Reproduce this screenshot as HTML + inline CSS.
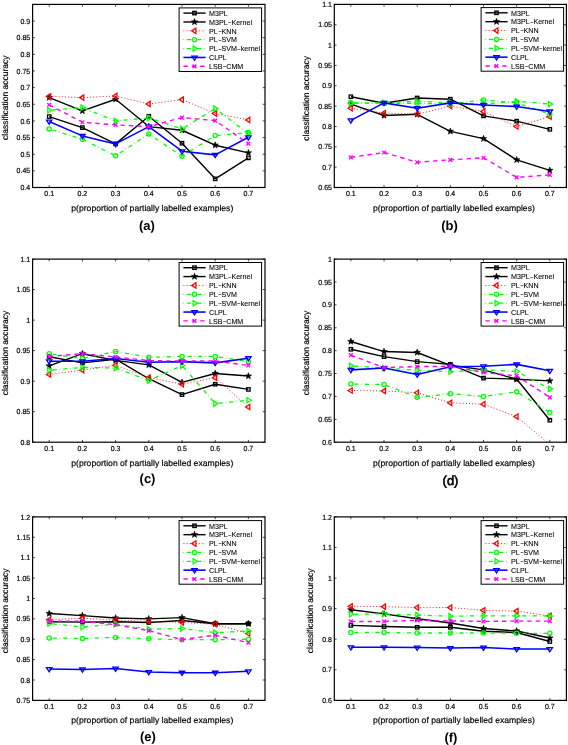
<!DOCTYPE html><html><head><meta charset="utf-8"><style>html,body{margin:0;padding:0;background:#fff;}body{position:relative;width:568px;height:745px;overflow:hidden;}svg{display:block;}.lg{position:absolute;font-family:"Liberation Sans",Arial,sans-serif;font-size:8px;line-height:8px;white-space:nowrap;color:#000;-webkit-text-stroke:0.1px #000;transform:scaleX(0.89);transform-origin:0 0;}.h{display:inline-block;transform:scaleX(1.5);margin:0 0.8px;position:relative;top:-0.8px;}text{font-family:"Liberation Sans",Arial,Helvetica,sans-serif;fill:#000;text-rendering:geometricPrecision;}text.r{stroke:#000;stroke-width:0.18px;}</style></head><body>
<svg width="568" height="745" viewBox="0 0 568 745">
<rect width="568" height="745" fill="#fff"/>
<clipPath id="c0"><rect x="32.60" y="4.40" width="232.40" height="183.10"/></clipPath>
<path d="M49.20 187.50v-2.3M49.20 4.40v2.3M82.40 187.50v-2.3M82.40 4.40v2.3M115.60 187.50v-2.3M115.60 4.40v2.3M148.80 187.50v-2.3M148.80 4.40v2.3M182.00 187.50v-2.3M182.00 4.40v2.3M215.20 187.50v-2.3M215.20 4.40v2.3M248.40 187.50v-2.3M248.40 4.40v2.3M32.60 187.50h2.3M265.00 187.50h-2.3M32.60 170.85h2.3M265.00 170.85h-2.3M32.60 154.21h2.3M265.00 154.21h-2.3M32.60 137.56h2.3M265.00 137.56h-2.3M32.60 120.92h2.3M265.00 120.92h-2.3M32.60 104.27h2.3M265.00 104.27h-2.3M32.60 87.63h2.3M265.00 87.63h-2.3M32.60 70.98h2.3M265.00 70.98h-2.3M32.60 54.34h2.3M265.00 54.34h-2.3M32.60 37.69h2.3M265.00 37.69h-2.3M32.60 21.05h2.3M265.00 21.05h-2.3" stroke="#333" stroke-width="0.9" fill="none"/>
<text transform="translate(49.20 196.30) scale(0.95 1)" class="r" font-size="7.35" text-anchor="middle">0.1</text>
<text transform="translate(82.40 196.30) scale(0.95 1)" class="r" font-size="7.35" text-anchor="middle">0.2</text>
<text transform="translate(115.60 196.30) scale(0.95 1)" class="r" font-size="7.35" text-anchor="middle">0.3</text>
<text transform="translate(148.80 196.30) scale(0.95 1)" class="r" font-size="7.35" text-anchor="middle">0.4</text>
<text transform="translate(182.00 196.30) scale(0.95 1)" class="r" font-size="7.35" text-anchor="middle">0.5</text>
<text transform="translate(215.20 196.30) scale(0.95 1)" class="r" font-size="7.35" text-anchor="middle">0.6</text>
<text transform="translate(248.40 196.30) scale(0.95 1)" class="r" font-size="7.35" text-anchor="middle">0.7</text>
<text transform="translate(30.20 190.10) scale(0.95 1)" class="r" font-size="7.35" text-anchor="end">0.4</text>
<text transform="translate(30.20 173.45) scale(0.95 1)" class="r" font-size="7.35" text-anchor="end">0.45</text>
<text transform="translate(30.20 156.81) scale(0.95 1)" class="r" font-size="7.35" text-anchor="end">0.5</text>
<text transform="translate(30.20 140.16) scale(0.95 1)" class="r" font-size="7.35" text-anchor="end">0.55</text>
<text transform="translate(30.20 123.52) scale(0.95 1)" class="r" font-size="7.35" text-anchor="end">0.6</text>
<text transform="translate(30.20 106.87) scale(0.95 1)" class="r" font-size="7.35" text-anchor="end">0.65</text>
<text transform="translate(30.20 90.23) scale(0.95 1)" class="r" font-size="7.35" text-anchor="end">0.7</text>
<text transform="translate(30.20 73.58) scale(0.95 1)" class="r" font-size="7.35" text-anchor="end">0.75</text>
<text transform="translate(30.20 56.94) scale(0.95 1)" class="r" font-size="7.35" text-anchor="end">0.8</text>
<text transform="translate(30.20 40.29) scale(0.95 1)" class="r" font-size="7.35" text-anchor="end">0.85</text>
<text transform="translate(30.20 23.65) scale(0.95 1)" class="r" font-size="7.35" text-anchor="end">0.9</text>
<g clip-path="url(#c0)">
<polyline points="49.20,116.59 82.40,127.58 115.60,143.89 148.80,116.26 182.00,143.22 215.20,178.84 248.40,157.87" fill="none" stroke="#000" stroke-width="1.4" stroke-linejoin="round"/>
<rect x="47.50" y="114.89" width="3.40" height="3.40" fill="none" stroke="#000" stroke-width="1.3"/>
<rect x="80.70" y="125.88" width="3.40" height="3.40" fill="none" stroke="#000" stroke-width="1.3"/>
<rect x="113.90" y="142.19" width="3.40" height="3.40" fill="none" stroke="#000" stroke-width="1.3"/>
<rect x="147.10" y="114.56" width="3.40" height="3.40" fill="none" stroke="#000" stroke-width="1.3"/>
<rect x="180.30" y="141.52" width="3.40" height="3.40" fill="none" stroke="#000" stroke-width="1.3"/>
<rect x="213.50" y="177.14" width="3.40" height="3.40" fill="none" stroke="#000" stroke-width="1.3"/>
<rect x="246.70" y="156.17" width="3.40" height="3.40" fill="none" stroke="#000" stroke-width="1.3"/>
<polyline points="49.20,97.61 82.40,110.93 115.60,99.28 148.80,126.58 182.00,130.24 215.20,145.22 248.40,152.88" fill="none" stroke="#000" stroke-width="1.4" stroke-linejoin="round"/>
<polygon points="49.20,94.21 50.02,96.48 52.43,96.56 50.53,98.05 51.20,100.37 49.20,99.01 47.20,100.37 47.87,98.05 45.97,96.56 48.38,96.48" fill="#000" stroke="#000" stroke-width="0.6"/>
<polygon points="82.40,107.53 83.22,109.80 85.63,109.88 83.73,111.36 84.40,113.68 82.40,112.33 80.40,113.68 81.07,111.36 79.17,109.88 81.58,109.80" fill="#000" stroke="#000" stroke-width="0.6"/>
<polygon points="115.60,95.88 116.42,98.15 118.83,98.23 116.93,99.71 117.60,102.03 115.60,100.68 113.60,102.03 114.27,99.71 112.37,98.23 114.78,98.15" fill="#000" stroke="#000" stroke-width="0.6"/>
<polygon points="148.80,123.18 149.62,125.45 152.03,125.53 150.13,127.01 150.80,129.33 148.80,127.98 146.80,129.33 147.47,127.01 145.57,125.53 147.98,125.45" fill="#000" stroke="#000" stroke-width="0.6"/>
<polygon points="182.00,126.84 182.82,129.11 185.23,129.19 183.33,130.67 184.00,132.99 182.00,131.64 180.00,132.99 180.67,130.67 178.77,129.19 181.18,129.11" fill="#000" stroke="#000" stroke-width="0.6"/>
<polygon points="215.20,141.82 216.02,144.09 218.43,144.17 216.53,145.65 217.20,147.97 215.20,146.62 213.20,147.97 213.87,145.65 211.97,144.17 214.38,144.09" fill="#000" stroke="#000" stroke-width="0.6"/>
<polygon points="248.40,149.48 249.22,151.74 251.63,151.83 249.73,153.31 250.40,155.63 248.40,154.28 246.40,155.63 247.07,153.31 245.17,151.83 247.58,151.74" fill="#000" stroke="#000" stroke-width="0.6"/>
<polyline points="49.20,96.28 82.40,97.61 115.60,95.95 148.80,103.94 182.00,99.61 215.20,113.59 248.40,119.92" fill="none" stroke="#f00" stroke-width="0.9" stroke-dasharray="1 2.15" stroke-dashoffset="0" stroke-linejoin="round"/>
<polygon points="46.40,96.28 50.60,93.58 50.60,98.98" fill="none" stroke="#f00" stroke-width="1.25" stroke-linejoin="miter"/>
<polygon points="79.60,97.61 83.80,94.91 83.80,100.31" fill="none" stroke="#f00" stroke-width="1.25" stroke-linejoin="miter"/>
<polygon points="112.80,95.95 117.00,93.25 117.00,98.65" fill="none" stroke="#f00" stroke-width="1.25" stroke-linejoin="miter"/>
<polygon points="146.00,103.94 150.20,101.24 150.20,106.64" fill="none" stroke="#f00" stroke-width="1.25" stroke-linejoin="miter"/>
<polygon points="179.20,99.61 183.40,96.91 183.40,102.31" fill="none" stroke="#f00" stroke-width="1.25" stroke-linejoin="miter"/>
<polygon points="212.40,113.59 216.60,110.89 216.60,116.29" fill="none" stroke="#f00" stroke-width="1.25" stroke-linejoin="miter"/>
<polygon points="245.60,119.92 249.80,117.22 249.80,122.62" fill="none" stroke="#f00" stroke-width="1.25" stroke-linejoin="miter"/>
<polyline points="49.20,128.91 82.40,139.23 115.60,155.87 148.80,133.90 182.00,156.21 215.20,135.57 248.40,132.57" fill="none" stroke="#0f0" stroke-width="1.3" stroke-dasharray="4.1 2.9 0.6 2.9" stroke-dashoffset="7.0" stroke-linejoin="round"/>
<circle cx="49.20" cy="128.91" r="2.1" fill="none" stroke="#0f0" stroke-width="1.3"/>
<circle cx="82.40" cy="139.23" r="2.1" fill="none" stroke="#0f0" stroke-width="1.3"/>
<circle cx="115.60" cy="155.87" r="2.1" fill="none" stroke="#0f0" stroke-width="1.3"/>
<circle cx="148.80" cy="133.90" r="2.1" fill="none" stroke="#0f0" stroke-width="1.3"/>
<circle cx="182.00" cy="156.21" r="2.1" fill="none" stroke="#0f0" stroke-width="1.3"/>
<circle cx="215.20" cy="135.57" r="2.1" fill="none" stroke="#0f0" stroke-width="1.3"/>
<circle cx="248.40" cy="132.57" r="2.1" fill="none" stroke="#0f0" stroke-width="1.3"/>
<polyline points="49.20,110.27 82.40,107.60 115.60,120.92 148.80,117.92 182.00,128.91 215.20,108.60 248.40,133.57" fill="none" stroke="#0f0" stroke-width="1.3" stroke-dasharray="4.1 2.9 0.6 2.9" stroke-dashoffset="7.0" stroke-linejoin="round"/>
<polygon points="52.00,110.27 47.80,107.57 47.80,112.97" fill="none" stroke="#0f0" stroke-width="1.25" stroke-linejoin="miter"/>
<polygon points="85.20,107.60 81.00,104.90 81.00,110.30" fill="none" stroke="#0f0" stroke-width="1.25" stroke-linejoin="miter"/>
<polygon points="118.40,120.92 114.20,118.22 114.20,123.62" fill="none" stroke="#0f0" stroke-width="1.25" stroke-linejoin="miter"/>
<polygon points="151.60,117.92 147.40,115.22 147.40,120.62" fill="none" stroke="#0f0" stroke-width="1.25" stroke-linejoin="miter"/>
<polygon points="184.80,128.91 180.60,126.21 180.60,131.61" fill="none" stroke="#0f0" stroke-width="1.25" stroke-linejoin="miter"/>
<polygon points="218.00,108.60 213.80,105.90 213.80,111.30" fill="none" stroke="#0f0" stroke-width="1.25" stroke-linejoin="miter"/>
<polygon points="251.20,133.57 247.00,130.87 247.00,136.27" fill="none" stroke="#0f0" stroke-width="1.25" stroke-linejoin="miter"/>
<polyline points="49.20,121.58 82.40,135.90 115.60,143.89 148.80,126.58 182.00,151.21 215.20,154.87 248.40,137.23" fill="none" stroke="#00f" stroke-width="1.55" stroke-linejoin="round"/>
<polygon points="49.20,124.38 46.50,120.18 51.90,120.18" fill="none" stroke="#00f" stroke-width="1.3" stroke-linejoin="miter"/>
<polygon points="82.40,138.70 79.70,134.50 85.10,134.50" fill="none" stroke="#00f" stroke-width="1.3" stroke-linejoin="miter"/>
<polygon points="115.60,146.69 112.90,142.49 118.30,142.49" fill="none" stroke="#00f" stroke-width="1.3" stroke-linejoin="miter"/>
<polygon points="148.80,129.38 146.10,125.18 151.50,125.18" fill="none" stroke="#00f" stroke-width="1.3" stroke-linejoin="miter"/>
<polygon points="182.00,154.01 179.30,149.81 184.70,149.81" fill="none" stroke="#00f" stroke-width="1.3" stroke-linejoin="miter"/>
<polygon points="215.20,157.67 212.50,153.47 217.90,153.47" fill="none" stroke="#00f" stroke-width="1.3" stroke-linejoin="miter"/>
<polygon points="248.40,140.03 245.70,135.83 251.10,135.83" fill="none" stroke="#00f" stroke-width="1.3" stroke-linejoin="miter"/>
<polyline points="49.20,104.94 82.40,122.25 115.60,124.91 148.80,126.58 182.00,117.59 215.20,120.59 248.40,143.56" fill="none" stroke="#f0f" stroke-width="1.4" stroke-dasharray="4.4 4" stroke-dashoffset="0" stroke-linejoin="round"/>
<path d="M47.30 103.04L51.10 106.84M47.30 106.84L51.10 103.04" stroke="#f0f" stroke-width="1.3" fill="none"/>
<path d="M80.50 120.35L84.30 124.15M80.50 124.15L84.30 120.35" stroke="#f0f" stroke-width="1.3" fill="none"/>
<path d="M113.70 123.01L117.50 126.81M113.70 126.81L117.50 123.01" stroke="#f0f" stroke-width="1.3" fill="none"/>
<path d="M146.90 124.68L150.70 128.48M146.90 128.48L150.70 124.68" stroke="#f0f" stroke-width="1.3" fill="none"/>
<path d="M180.10 115.69L183.90 119.49M180.10 119.49L183.90 115.69" stroke="#f0f" stroke-width="1.3" fill="none"/>
<path d="M213.30 118.69L217.10 122.49M213.30 122.49L217.10 118.69" stroke="#f0f" stroke-width="1.3" fill="none"/>
<path d="M246.50 141.66L250.30 145.46M246.50 145.46L250.30 141.66" stroke="#f0f" stroke-width="1.3" fill="none"/>
</g>
<rect x="32.60" y="4.40" width="232.40" height="183.10" fill="none" stroke="#000" stroke-width="1.2"/>
<rect x="179.10" y="7.90" width="82.5" height="63.6" fill="#fff" stroke="#000" stroke-width="1"/>
<line x1="183.40" y1="13.10" x2="205.60" y2="13.10" stroke="#000" stroke-width="1.4"/>
<rect x="192.80" y="11.40" width="3.40" height="3.40" fill="none" stroke="#000" stroke-width="1.3"/>
<line x1="183.40" y1="21.97" x2="205.60" y2="21.97" stroke="#000" stroke-width="1.4"/>
<polygon points="194.50,18.57 195.32,20.84 197.73,20.92 195.83,22.40 196.50,24.72 194.50,23.37 192.50,24.72 193.17,22.40 191.27,20.92 193.68,20.84" fill="#000" stroke="#000" stroke-width="0.6"/>
<line x1="183.40" y1="30.84" x2="205.60" y2="30.84" stroke="#f00" stroke-width="0.9" stroke-dasharray="1 2.15" stroke-dashoffset="0"/>
<polygon points="191.70,30.84 195.90,28.14 195.90,33.54" fill="none" stroke="#f00" stroke-width="1.25" stroke-linejoin="miter"/>
<line x1="183.40" y1="39.71" x2="205.60" y2="39.71" stroke="#0f0" stroke-width="1.3" stroke-dasharray="4.1 2.9 0.6 2.9" stroke-dashoffset="7.0"/>
<circle cx="194.50" cy="39.71" r="2.1" fill="none" stroke="#0f0" stroke-width="1.3"/>
<line x1="183.40" y1="48.58" x2="205.60" y2="48.58" stroke="#0f0" stroke-width="1.3" stroke-dasharray="4.1 2.9 0.6 2.9" stroke-dashoffset="7.0"/>
<polygon points="197.30,48.58 193.10,45.88 193.10,51.28" fill="none" stroke="#0f0" stroke-width="1.25" stroke-linejoin="miter"/>
<line x1="183.40" y1="57.45" x2="205.60" y2="57.45" stroke="#00f" stroke-width="1.55"/>
<polygon points="194.50,60.25 191.80,56.05 197.20,56.05" fill="none" stroke="#00f" stroke-width="1.3" stroke-linejoin="miter"/>
<line x1="183.40" y1="66.32" x2="205.60" y2="66.32" stroke="#f0f" stroke-width="1.4" stroke-dasharray="4.4 4" stroke-dashoffset="0"/>
<path d="M192.60 64.42L196.40 68.22M192.60 68.22L196.40 64.42" stroke="#f0f" stroke-width="1.3" fill="none"/>
<text transform="translate(7.70 97.70) rotate(-90)" class="r" font-size="8.5" text-anchor="middle">classification accuracy</text>
<text x="152.30" y="210.60" class="r" font-size="8.6" text-anchor="middle">p(proportion of partially labelled examples)</text>
<text x="146.90" y="229.60" font-size="13" font-weight="bold" text-anchor="middle">(a)</text>
<clipPath id="c1"><rect x="334.30" y="4.40" width="232.10" height="183.10"/></clipPath>
<path d="M350.88 187.50v-2.3M350.88 4.40v2.3M384.04 187.50v-2.3M384.04 4.40v2.3M417.19 187.50v-2.3M417.19 4.40v2.3M450.35 187.50v-2.3M450.35 4.40v2.3M483.51 187.50v-2.3M483.51 4.40v2.3M516.66 187.50v-2.3M516.66 4.40v2.3M549.82 187.50v-2.3M549.82 4.40v2.3M334.30 187.50h2.3M566.40 187.50h-2.3M334.30 167.16h2.3M566.40 167.16h-2.3M334.30 146.81h2.3M566.40 146.81h-2.3M334.30 126.47h2.3M566.40 126.47h-2.3M334.30 106.12h2.3M566.40 106.12h-2.3M334.30 85.78h2.3M566.40 85.78h-2.3M334.30 65.43h2.3M566.40 65.43h-2.3M334.30 45.09h2.3M566.40 45.09h-2.3M334.30 24.74h2.3M566.40 24.74h-2.3M334.30 4.40h2.3M566.40 4.40h-2.3" stroke="#333" stroke-width="0.9" fill="none"/>
<text transform="translate(350.88 196.30) scale(0.95 1)" class="r" font-size="7.35" text-anchor="middle">0.1</text>
<text transform="translate(384.04 196.30) scale(0.95 1)" class="r" font-size="7.35" text-anchor="middle">0.2</text>
<text transform="translate(417.19 196.30) scale(0.95 1)" class="r" font-size="7.35" text-anchor="middle">0.3</text>
<text transform="translate(450.35 196.30) scale(0.95 1)" class="r" font-size="7.35" text-anchor="middle">0.4</text>
<text transform="translate(483.51 196.30) scale(0.95 1)" class="r" font-size="7.35" text-anchor="middle">0.5</text>
<text transform="translate(516.66 196.30) scale(0.95 1)" class="r" font-size="7.35" text-anchor="middle">0.6</text>
<text transform="translate(549.82 196.30) scale(0.95 1)" class="r" font-size="7.35" text-anchor="middle">0.7</text>
<text transform="translate(331.90 190.10) scale(0.95 1)" class="r" font-size="7.35" text-anchor="end">0.65</text>
<text transform="translate(331.90 169.76) scale(0.95 1)" class="r" font-size="7.35" text-anchor="end">0.7</text>
<text transform="translate(331.90 149.41) scale(0.95 1)" class="r" font-size="7.35" text-anchor="end">0.75</text>
<text transform="translate(331.90 129.07) scale(0.95 1)" class="r" font-size="7.35" text-anchor="end">0.8</text>
<text transform="translate(331.90 108.72) scale(0.95 1)" class="r" font-size="7.35" text-anchor="end">0.85</text>
<text transform="translate(331.90 88.38) scale(0.95 1)" class="r" font-size="7.35" text-anchor="end">0.9</text>
<text transform="translate(331.90 68.03) scale(0.95 1)" class="r" font-size="7.35" text-anchor="end">0.95</text>
<text transform="translate(331.90 47.69) scale(0.95 1)" class="r" font-size="7.35" text-anchor="end">1</text>
<text transform="translate(331.90 27.34) scale(0.95 1)" class="r" font-size="7.35" text-anchor="end">1.05</text>
<text transform="translate(331.90 7.00) scale(0.95 1)" class="r" font-size="7.35" text-anchor="end">1.1</text>
<g clip-path="url(#c1)">
<polyline points="350.88,96.76 384.04,103.27 417.19,97.98 450.35,99.21 483.51,115.89 516.66,121.18 549.82,129.31" fill="none" stroke="#000" stroke-width="1.4" stroke-linejoin="round"/>
<rect x="349.18" y="95.06" width="3.40" height="3.40" fill="none" stroke="#000" stroke-width="1.3"/>
<rect x="382.34" y="101.57" width="3.40" height="3.40" fill="none" stroke="#000" stroke-width="1.3"/>
<rect x="415.49" y="96.28" width="3.40" height="3.40" fill="none" stroke="#000" stroke-width="1.3"/>
<rect x="448.65" y="97.51" width="3.40" height="3.40" fill="none" stroke="#000" stroke-width="1.3"/>
<rect x="481.81" y="114.19" width="3.40" height="3.40" fill="none" stroke="#000" stroke-width="1.3"/>
<rect x="514.96" y="119.48" width="3.40" height="3.40" fill="none" stroke="#000" stroke-width="1.3"/>
<rect x="548.12" y="127.61" width="3.40" height="3.40" fill="none" stroke="#000" stroke-width="1.3"/>
<polyline points="350.88,104.09 384.04,115.48 417.19,114.26 450.35,131.35 483.51,138.67 516.66,159.83 549.82,170.41" fill="none" stroke="#000" stroke-width="1.4" stroke-linejoin="round"/>
<polygon points="350.88,100.69 351.70,102.96 354.11,103.04 352.21,104.52 352.88,106.84 350.88,105.49 348.88,106.84 349.55,104.52 347.64,103.04 350.06,102.96" fill="#000" stroke="#000" stroke-width="0.6"/>
<polygon points="384.04,112.08 384.86,114.35 387.27,114.43 385.37,115.91 386.03,118.23 384.04,116.88 382.04,118.23 382.70,115.91 380.80,114.43 383.21,114.35" fill="#000" stroke="#000" stroke-width="0.6"/>
<polygon points="417.19,110.86 418.02,113.13 420.43,113.21 418.52,114.69 419.19,117.01 417.19,115.66 415.19,117.01 415.86,114.69 413.96,113.21 416.37,113.13" fill="#000" stroke="#000" stroke-width="0.6"/>
<polygon points="450.35,127.95 451.17,130.22 453.58,130.30 451.68,131.78 452.35,134.10 450.35,132.75 448.35,134.10 449.02,131.78 447.12,130.30 449.53,130.22" fill="#000" stroke="#000" stroke-width="0.6"/>
<polygon points="483.51,135.27 484.33,137.54 486.74,137.62 484.84,139.11 485.51,141.42 483.51,140.07 481.51,141.42 482.18,139.11 480.27,137.62 482.68,137.54" fill="#000" stroke="#000" stroke-width="0.6"/>
<polygon points="516.66,156.43 517.49,158.70 519.90,158.78 518.00,160.26 518.66,162.58 516.66,161.23 514.67,162.58 515.33,160.26 513.43,158.78 515.84,158.70" fill="#000" stroke="#000" stroke-width="0.6"/>
<polygon points="549.82,167.01 550.64,169.28 553.06,169.36 551.15,170.84 551.82,173.16 549.82,171.81 547.82,173.16 548.49,170.84 546.59,169.36 549.00,169.28" fill="#000" stroke="#000" stroke-width="0.6"/>
<polyline points="350.88,108.16 384.04,113.04 417.19,114.26 450.35,106.12 483.51,111.41 516.66,126.47 549.82,116.70" fill="none" stroke="#f00" stroke-width="0.9" stroke-dasharray="1 2.15" stroke-dashoffset="0" stroke-linejoin="round"/>
<polygon points="348.08,108.16 352.28,105.46 352.28,110.86" fill="none" stroke="#f00" stroke-width="1.25" stroke-linejoin="miter"/>
<polygon points="381.24,113.04 385.44,110.34 385.44,115.74" fill="none" stroke="#f00" stroke-width="1.25" stroke-linejoin="miter"/>
<polygon points="414.39,114.26 418.59,111.56 418.59,116.96" fill="none" stroke="#f00" stroke-width="1.25" stroke-linejoin="miter"/>
<polygon points="447.55,106.12 451.75,103.42 451.75,108.82" fill="none" stroke="#f00" stroke-width="1.25" stroke-linejoin="miter"/>
<polygon points="480.71,111.41 484.91,108.71 484.91,114.11" fill="none" stroke="#f00" stroke-width="1.25" stroke-linejoin="miter"/>
<polygon points="513.86,126.47 518.06,123.77 518.06,129.17" fill="none" stroke="#f00" stroke-width="1.25" stroke-linejoin="miter"/>
<polygon points="547.02,116.70 551.22,114.00 551.22,119.40" fill="none" stroke="#f00" stroke-width="1.25" stroke-linejoin="miter"/>
<polyline points="350.88,102.87 384.04,103.27 417.19,103.27 450.35,104.09 483.51,100.02 516.66,102.87 549.82,114.26" fill="none" stroke="#0f0" stroke-width="1.3" stroke-dasharray="4.1 2.9 0.6 2.9" stroke-dashoffset="7.0" stroke-linejoin="round"/>
<circle cx="350.88" cy="102.87" r="2.1" fill="none" stroke="#0f0" stroke-width="1.3"/>
<circle cx="384.04" cy="103.27" r="2.1" fill="none" stroke="#0f0" stroke-width="1.3"/>
<circle cx="417.19" cy="103.27" r="2.1" fill="none" stroke="#0f0" stroke-width="1.3"/>
<circle cx="450.35" cy="104.09" r="2.1" fill="none" stroke="#0f0" stroke-width="1.3"/>
<circle cx="483.51" cy="100.02" r="2.1" fill="none" stroke="#0f0" stroke-width="1.3"/>
<circle cx="516.66" cy="102.87" r="2.1" fill="none" stroke="#0f0" stroke-width="1.3"/>
<circle cx="549.82" cy="114.26" r="2.1" fill="none" stroke="#0f0" stroke-width="1.3"/>
<polyline points="350.88,103.27 384.04,102.87 417.19,101.24 450.35,102.87 483.51,104.09 516.66,101.24 549.82,104.09" fill="none" stroke="#0f0" stroke-width="1.3" stroke-dasharray="4.1 2.9 0.6 2.9" stroke-dashoffset="7.0" stroke-linejoin="round"/>
<polygon points="353.68,103.27 349.48,100.57 349.48,105.97" fill="none" stroke="#0f0" stroke-width="1.25" stroke-linejoin="miter"/>
<polygon points="386.84,102.87 382.64,100.17 382.64,105.57" fill="none" stroke="#0f0" stroke-width="1.25" stroke-linejoin="miter"/>
<polygon points="419.99,101.24 415.79,98.54 415.79,103.94" fill="none" stroke="#0f0" stroke-width="1.25" stroke-linejoin="miter"/>
<polygon points="453.15,102.87 448.95,100.17 448.95,105.57" fill="none" stroke="#0f0" stroke-width="1.25" stroke-linejoin="miter"/>
<polygon points="486.31,104.09 482.11,101.39 482.11,106.79" fill="none" stroke="#0f0" stroke-width="1.25" stroke-linejoin="miter"/>
<polygon points="519.46,101.24 515.26,98.54 515.26,103.94" fill="none" stroke="#0f0" stroke-width="1.25" stroke-linejoin="miter"/>
<polygon points="552.62,104.09 548.42,101.39 548.42,106.79" fill="none" stroke="#0f0" stroke-width="1.25" stroke-linejoin="miter"/>
<polyline points="350.88,120.36 384.04,102.87 417.19,108.16 450.35,102.87 483.51,104.90 516.66,106.53 549.82,111.41" fill="none" stroke="#00f" stroke-width="1.55" stroke-linejoin="round"/>
<polygon points="350.88,123.16 348.18,118.96 353.58,118.96" fill="none" stroke="#00f" stroke-width="1.3" stroke-linejoin="miter"/>
<polygon points="384.04,105.67 381.34,101.47 386.74,101.47" fill="none" stroke="#00f" stroke-width="1.3" stroke-linejoin="miter"/>
<polygon points="417.19,110.96 414.49,106.76 419.89,106.76" fill="none" stroke="#00f" stroke-width="1.3" stroke-linejoin="miter"/>
<polygon points="450.35,105.67 447.65,101.47 453.05,101.47" fill="none" stroke="#00f" stroke-width="1.3" stroke-linejoin="miter"/>
<polygon points="483.51,107.70 480.81,103.50 486.21,103.50" fill="none" stroke="#00f" stroke-width="1.3" stroke-linejoin="miter"/>
<polygon points="516.66,109.33 513.96,105.13 519.36,105.13" fill="none" stroke="#00f" stroke-width="1.3" stroke-linejoin="miter"/>
<polygon points="549.82,114.21 547.12,110.01 552.52,110.01" fill="none" stroke="#00f" stroke-width="1.3" stroke-linejoin="miter"/>
<polyline points="350.88,157.39 384.04,152.51 417.19,162.27 450.35,159.83 483.51,157.80 516.66,177.33 549.82,174.89" fill="none" stroke="#f0f" stroke-width="1.4" stroke-dasharray="4.4 4" stroke-dashoffset="0" stroke-linejoin="round"/>
<path d="M348.98 155.49L352.78 159.29M348.98 159.29L352.78 155.49" stroke="#f0f" stroke-width="1.3" fill="none"/>
<path d="M382.14 150.61L385.94 154.41M382.14 154.41L385.94 150.61" stroke="#f0f" stroke-width="1.3" fill="none"/>
<path d="M415.29 160.37L419.09 164.17M415.29 164.17L419.09 160.37" stroke="#f0f" stroke-width="1.3" fill="none"/>
<path d="M448.45 157.93L452.25 161.73M448.45 161.73L452.25 157.93" stroke="#f0f" stroke-width="1.3" fill="none"/>
<path d="M481.61 155.90L485.41 159.70M481.61 159.70L485.41 155.90" stroke="#f0f" stroke-width="1.3" fill="none"/>
<path d="M514.76 175.43L518.56 179.23M514.76 179.23L518.56 175.43" stroke="#f0f" stroke-width="1.3" fill="none"/>
<path d="M547.92 172.99L551.72 176.79M547.92 176.79L551.72 172.99" stroke="#f0f" stroke-width="1.3" fill="none"/>
</g>
<rect x="334.30" y="4.40" width="232.10" height="183.10" fill="none" stroke="#000" stroke-width="1.2"/>
<rect x="481.10" y="7.60" width="82.5" height="63.6" fill="#fff" stroke="#000" stroke-width="1"/>
<line x1="485.40" y1="12.80" x2="507.60" y2="12.80" stroke="#000" stroke-width="1.4"/>
<rect x="494.80" y="11.10" width="3.40" height="3.40" fill="none" stroke="#000" stroke-width="1.3"/>
<line x1="485.40" y1="21.67" x2="507.60" y2="21.67" stroke="#000" stroke-width="1.4"/>
<polygon points="496.50,18.27 497.32,20.54 499.73,20.62 497.83,22.10 498.50,24.42 496.50,23.07 494.50,24.42 495.17,22.10 493.27,20.62 495.68,20.54" fill="#000" stroke="#000" stroke-width="0.6"/>
<line x1="485.40" y1="30.54" x2="507.60" y2="30.54" stroke="#f00" stroke-width="0.9" stroke-dasharray="1 2.15" stroke-dashoffset="0"/>
<polygon points="493.70,30.54 497.90,27.84 497.90,33.24" fill="none" stroke="#f00" stroke-width="1.25" stroke-linejoin="miter"/>
<line x1="485.40" y1="39.41" x2="507.60" y2="39.41" stroke="#0f0" stroke-width="1.3" stroke-dasharray="4.1 2.9 0.6 2.9" stroke-dashoffset="7.0"/>
<circle cx="496.50" cy="39.41" r="2.1" fill="none" stroke="#0f0" stroke-width="1.3"/>
<line x1="485.40" y1="48.28" x2="507.60" y2="48.28" stroke="#0f0" stroke-width="1.3" stroke-dasharray="4.1 2.9 0.6 2.9" stroke-dashoffset="7.0"/>
<polygon points="499.30,48.28 495.10,45.58 495.10,50.98" fill="none" stroke="#0f0" stroke-width="1.25" stroke-linejoin="miter"/>
<line x1="485.40" y1="57.15" x2="507.60" y2="57.15" stroke="#00f" stroke-width="1.55"/>
<polygon points="496.50,59.95 493.80,55.75 499.20,55.75" fill="none" stroke="#00f" stroke-width="1.3" stroke-linejoin="miter"/>
<line x1="485.40" y1="66.02" x2="507.60" y2="66.02" stroke="#f0f" stroke-width="1.4" stroke-dasharray="4.4 4" stroke-dashoffset="0"/>
<path d="M494.60 64.12L498.40 67.92M494.60 67.92L498.40 64.12" stroke="#f0f" stroke-width="1.3" fill="none"/>
<text transform="translate(309.30 98.40) rotate(-90)" class="r" font-size="8.5" text-anchor="middle">classification accuracy</text>
<text x="453.85" y="210.60" class="r" font-size="8.6" text-anchor="middle">p(proportion of partially labelled examples)</text>
<text x="449.50" y="230.10" font-size="13" font-weight="bold" text-anchor="middle">(b)</text>
<clipPath id="c2"><rect x="32.60" y="259.10" width="232.40" height="183.10"/></clipPath>
<path d="M49.20 442.20v-2.3M49.20 259.10v2.3M82.40 442.20v-2.3M82.40 259.10v2.3M115.60 442.20v-2.3M115.60 259.10v2.3M148.80 442.20v-2.3M148.80 259.10v2.3M182.00 442.20v-2.3M182.00 259.10v2.3M215.20 442.20v-2.3M215.20 259.10v2.3M248.40 442.20v-2.3M248.40 259.10v2.3M32.60 442.20h2.3M265.00 442.20h-2.3M32.60 411.68h2.3M265.00 411.68h-2.3M32.60 381.17h2.3M265.00 381.17h-2.3M32.60 350.65h2.3M265.00 350.65h-2.3M32.60 320.13h2.3M265.00 320.13h-2.3M32.60 289.62h2.3M265.00 289.62h-2.3M32.60 259.10h2.3M265.00 259.10h-2.3" stroke="#333" stroke-width="0.9" fill="none"/>
<text transform="translate(49.20 451.00) scale(0.95 1)" class="r" font-size="7.35" text-anchor="middle">0.1</text>
<text transform="translate(82.40 451.00) scale(0.95 1)" class="r" font-size="7.35" text-anchor="middle">0.2</text>
<text transform="translate(115.60 451.00) scale(0.95 1)" class="r" font-size="7.35" text-anchor="middle">0.3</text>
<text transform="translate(148.80 451.00) scale(0.95 1)" class="r" font-size="7.35" text-anchor="middle">0.4</text>
<text transform="translate(182.00 451.00) scale(0.95 1)" class="r" font-size="7.35" text-anchor="middle">0.5</text>
<text transform="translate(215.20 451.00) scale(0.95 1)" class="r" font-size="7.35" text-anchor="middle">0.6</text>
<text transform="translate(248.40 451.00) scale(0.95 1)" class="r" font-size="7.35" text-anchor="middle">0.7</text>
<text transform="translate(30.20 444.80) scale(0.95 1)" class="r" font-size="7.35" text-anchor="end">0.8</text>
<text transform="translate(30.20 414.28) scale(0.95 1)" class="r" font-size="7.35" text-anchor="end">0.85</text>
<text transform="translate(30.20 383.77) scale(0.95 1)" class="r" font-size="7.35" text-anchor="end">0.9</text>
<text transform="translate(30.20 353.25) scale(0.95 1)" class="r" font-size="7.35" text-anchor="end">0.95</text>
<text transform="translate(30.20 322.73) scale(0.95 1)" class="r" font-size="7.35" text-anchor="end">1</text>
<text transform="translate(30.20 292.22) scale(0.95 1)" class="r" font-size="7.35" text-anchor="end">1.05</text>
<text transform="translate(30.20 261.70) scale(0.95 1)" class="r" font-size="7.35" text-anchor="end">1.1</text>
<g clip-path="url(#c2)">
<polyline points="49.20,356.75 82.40,362.86 115.60,359.19 148.80,378.73 182.00,394.59 215.20,384.22 248.40,389.41" fill="none" stroke="#000" stroke-width="1.4" stroke-linejoin="round"/>
<rect x="47.50" y="355.05" width="3.40" height="3.40" fill="none" stroke="#000" stroke-width="1.3"/>
<rect x="80.70" y="361.16" width="3.40" height="3.40" fill="none" stroke="#000" stroke-width="1.3"/>
<rect x="113.90" y="357.49" width="3.40" height="3.40" fill="none" stroke="#000" stroke-width="1.3"/>
<rect x="147.10" y="377.03" width="3.40" height="3.40" fill="none" stroke="#000" stroke-width="1.3"/>
<rect x="180.30" y="392.89" width="3.40" height="3.40" fill="none" stroke="#000" stroke-width="1.3"/>
<rect x="213.50" y="382.52" width="3.40" height="3.40" fill="none" stroke="#000" stroke-width="1.3"/>
<rect x="246.70" y="387.71" width="3.40" height="3.40" fill="none" stroke="#000" stroke-width="1.3"/>
<polyline points="49.20,365.91 82.40,353.70 115.60,360.42 148.80,364.93 182.00,382.39 215.20,373.48 248.40,376.04" fill="none" stroke="#000" stroke-width="1.4" stroke-linejoin="round"/>
<polygon points="49.20,362.51 50.02,364.78 52.43,364.86 50.53,366.34 51.20,368.66 49.20,367.31 47.20,368.66 47.87,366.34 45.97,364.86 48.38,364.78" fill="#000" stroke="#000" stroke-width="0.6"/>
<polygon points="82.40,350.30 83.22,352.57 85.63,352.65 83.73,354.13 84.40,356.45 82.40,355.10 80.40,356.45 81.07,354.13 79.17,352.65 81.58,352.57" fill="#000" stroke="#000" stroke-width="0.6"/>
<polygon points="115.60,357.02 116.42,359.28 118.83,359.36 116.93,360.85 117.60,363.17 115.60,361.82 113.60,363.17 114.27,360.85 112.37,359.36 114.78,359.28" fill="#000" stroke="#000" stroke-width="0.6"/>
<polygon points="148.80,361.53 149.62,363.80 152.03,363.88 150.13,365.36 150.80,367.68 148.80,366.33 146.80,367.68 147.47,365.36 145.57,363.88 147.98,363.80" fill="#000" stroke="#000" stroke-width="0.6"/>
<polygon points="182.00,378.99 182.82,381.25 185.23,381.34 183.33,382.82 184.00,385.14 182.00,383.79 180.00,385.14 180.67,382.82 178.77,381.34 181.18,381.25" fill="#000" stroke="#000" stroke-width="0.6"/>
<polygon points="215.20,370.08 216.02,372.34 218.43,372.43 216.53,373.91 217.20,376.23 215.20,374.88 213.20,376.23 213.87,373.91 211.97,372.43 214.38,372.34" fill="#000" stroke="#000" stroke-width="0.6"/>
<polygon points="248.40,372.64 249.22,374.91 251.63,374.99 249.73,376.47 250.40,378.79 248.40,377.44 246.40,378.79 247.07,376.47 245.17,374.99 247.58,374.91" fill="#000" stroke="#000" stroke-width="0.6"/>
<polyline points="49.20,374.45 82.40,370.18 115.60,365.30 148.80,377.50 182.00,384.22 215.20,377.69 248.40,406.98" fill="none" stroke="#f00" stroke-width="0.9" stroke-dasharray="1 2.15" stroke-dashoffset="0" stroke-linejoin="round"/>
<polygon points="46.40,374.45 50.60,371.75 50.60,377.15" fill="none" stroke="#f00" stroke-width="1.25" stroke-linejoin="miter"/>
<polygon points="79.60,370.18 83.80,367.48 83.80,372.88" fill="none" stroke="#f00" stroke-width="1.25" stroke-linejoin="miter"/>
<polygon points="112.80,365.30 117.00,362.60 117.00,368.00" fill="none" stroke="#f00" stroke-width="1.25" stroke-linejoin="miter"/>
<polygon points="146.00,377.50 150.20,374.80 150.20,380.20" fill="none" stroke="#f00" stroke-width="1.25" stroke-linejoin="miter"/>
<polygon points="179.20,384.22 183.40,381.52 183.40,386.92" fill="none" stroke="#f00" stroke-width="1.25" stroke-linejoin="miter"/>
<polygon points="212.40,377.69 216.60,374.99 216.60,380.39" fill="none" stroke="#f00" stroke-width="1.25" stroke-linejoin="miter"/>
<polygon points="245.60,406.98 249.80,404.28 249.80,409.68" fill="none" stroke="#f00" stroke-width="1.25" stroke-linejoin="miter"/>
<polyline points="49.20,353.70 82.40,358.58 115.60,351.44 148.80,357.36 182.00,356.45 215.20,356.45 248.40,361.64" fill="none" stroke="#0f0" stroke-width="1.3" stroke-dasharray="4.1 2.9 0.6 2.9" stroke-dashoffset="7.0" stroke-linejoin="round"/>
<circle cx="49.20" cy="353.70" r="2.1" fill="none" stroke="#0f0" stroke-width="1.3"/>
<circle cx="82.40" cy="358.58" r="2.1" fill="none" stroke="#0f0" stroke-width="1.3"/>
<circle cx="115.60" cy="351.44" r="2.1" fill="none" stroke="#0f0" stroke-width="1.3"/>
<circle cx="148.80" cy="357.36" r="2.1" fill="none" stroke="#0f0" stroke-width="1.3"/>
<circle cx="182.00" cy="356.45" r="2.1" fill="none" stroke="#0f0" stroke-width="1.3"/>
<circle cx="215.20" cy="356.45" r="2.1" fill="none" stroke="#0f0" stroke-width="1.3"/>
<circle cx="248.40" cy="361.64" r="2.1" fill="none" stroke="#0f0" stroke-width="1.3"/>
<polyline points="49.20,370.18 82.40,367.43 115.60,368.04 148.80,380.56 182.00,365.54 215.20,403.57 248.40,400.27" fill="none" stroke="#0f0" stroke-width="1.3" stroke-dasharray="4.1 2.9 0.6 2.9" stroke-dashoffset="7.0" stroke-linejoin="round"/>
<polygon points="52.00,370.18 47.80,367.48 47.80,372.88" fill="none" stroke="#0f0" stroke-width="1.25" stroke-linejoin="miter"/>
<polygon points="85.20,367.43 81.00,364.73 81.00,370.13" fill="none" stroke="#0f0" stroke-width="1.25" stroke-linejoin="miter"/>
<polygon points="118.40,368.04 114.20,365.34 114.20,370.74" fill="none" stroke="#0f0" stroke-width="1.25" stroke-linejoin="miter"/>
<polygon points="151.60,380.56 147.40,377.86 147.40,383.26" fill="none" stroke="#0f0" stroke-width="1.25" stroke-linejoin="miter"/>
<polygon points="184.80,365.54 180.60,362.84 180.60,368.24" fill="none" stroke="#0f0" stroke-width="1.25" stroke-linejoin="miter"/>
<polygon points="218.00,403.57 213.80,400.87 213.80,406.27" fill="none" stroke="#0f0" stroke-width="1.25" stroke-linejoin="miter"/>
<polygon points="251.20,400.27 247.00,397.57 247.00,402.97" fill="none" stroke="#0f0" stroke-width="1.25" stroke-linejoin="miter"/>
<polyline points="49.20,361.33 82.40,361.33 115.60,358.58 148.80,362.25 182.00,361.64 215.20,362.86 248.40,358.16" fill="none" stroke="#00f" stroke-width="1.55" stroke-linejoin="round"/>
<polygon points="49.20,364.13 46.50,359.93 51.90,359.93" fill="none" stroke="#00f" stroke-width="1.3" stroke-linejoin="miter"/>
<polygon points="82.40,364.13 79.70,359.93 85.10,359.93" fill="none" stroke="#00f" stroke-width="1.3" stroke-linejoin="miter"/>
<polygon points="115.60,361.38 112.90,357.18 118.30,357.18" fill="none" stroke="#00f" stroke-width="1.3" stroke-linejoin="miter"/>
<polygon points="148.80,365.05 146.10,360.85 151.50,360.85" fill="none" stroke="#00f" stroke-width="1.3" stroke-linejoin="miter"/>
<polygon points="182.00,364.44 179.30,360.24 184.70,360.24" fill="none" stroke="#00f" stroke-width="1.3" stroke-linejoin="miter"/>
<polygon points="215.20,365.66 212.50,361.46 217.90,361.46" fill="none" stroke="#00f" stroke-width="1.3" stroke-linejoin="miter"/>
<polygon points="248.40,360.96 245.70,356.76 251.10,356.76" fill="none" stroke="#00f" stroke-width="1.3" stroke-linejoin="miter"/>
<polyline points="49.20,356.45 82.40,353.70 115.60,356.94 148.80,360.66 182.00,361.03 215.20,361.03 248.40,365.48" fill="none" stroke="#f0f" stroke-width="1.4" stroke-dasharray="4.4 4" stroke-dashoffset="0" stroke-linejoin="round"/>
<path d="M47.30 354.55L51.10 358.35M47.30 358.35L51.10 354.55" stroke="#f0f" stroke-width="1.3" fill="none"/>
<path d="M80.50 351.80L84.30 355.60M80.50 355.60L84.30 351.80" stroke="#f0f" stroke-width="1.3" fill="none"/>
<path d="M113.70 355.04L117.50 358.84M113.70 358.84L117.50 355.04" stroke="#f0f" stroke-width="1.3" fill="none"/>
<path d="M146.90 358.76L150.70 362.56M146.90 362.56L150.70 358.76" stroke="#f0f" stroke-width="1.3" fill="none"/>
<path d="M180.10 359.13L183.90 362.93M180.10 362.93L183.90 359.13" stroke="#f0f" stroke-width="1.3" fill="none"/>
<path d="M213.30 359.13L217.10 362.93M213.30 362.93L217.10 359.13" stroke="#f0f" stroke-width="1.3" fill="none"/>
<path d="M246.50 363.58L250.30 367.38M246.50 367.38L250.30 363.58" stroke="#f0f" stroke-width="1.3" fill="none"/>
</g>
<rect x="32.60" y="259.10" width="232.40" height="183.10" fill="none" stroke="#000" stroke-width="1.2"/>
<rect x="179.10" y="262.50" width="82.5" height="63.6" fill="#fff" stroke="#000" stroke-width="1"/>
<line x1="183.40" y1="267.70" x2="205.60" y2="267.70" stroke="#000" stroke-width="1.4"/>
<rect x="192.80" y="266.00" width="3.40" height="3.40" fill="none" stroke="#000" stroke-width="1.3"/>
<line x1="183.40" y1="276.57" x2="205.60" y2="276.57" stroke="#000" stroke-width="1.4"/>
<polygon points="194.50,273.17 195.32,275.44 197.73,275.52 195.83,277.00 196.50,279.32 194.50,277.97 192.50,279.32 193.17,277.00 191.27,275.52 193.68,275.44" fill="#000" stroke="#000" stroke-width="0.6"/>
<line x1="183.40" y1="285.44" x2="205.60" y2="285.44" stroke="#f00" stroke-width="0.9" stroke-dasharray="1 2.15" stroke-dashoffset="0"/>
<polygon points="191.70,285.44 195.90,282.74 195.90,288.14" fill="none" stroke="#f00" stroke-width="1.25" stroke-linejoin="miter"/>
<line x1="183.40" y1="294.31" x2="205.60" y2="294.31" stroke="#0f0" stroke-width="1.3" stroke-dasharray="4.1 2.9 0.6 2.9" stroke-dashoffset="7.0"/>
<circle cx="194.50" cy="294.31" r="2.1" fill="none" stroke="#0f0" stroke-width="1.3"/>
<line x1="183.40" y1="303.18" x2="205.60" y2="303.18" stroke="#0f0" stroke-width="1.3" stroke-dasharray="4.1 2.9 0.6 2.9" stroke-dashoffset="7.0"/>
<polygon points="197.30,303.18 193.10,300.48 193.10,305.88" fill="none" stroke="#0f0" stroke-width="1.25" stroke-linejoin="miter"/>
<line x1="183.40" y1="312.05" x2="205.60" y2="312.05" stroke="#00f" stroke-width="1.55"/>
<polygon points="194.50,314.85 191.80,310.65 197.20,310.65" fill="none" stroke="#00f" stroke-width="1.3" stroke-linejoin="miter"/>
<line x1="183.40" y1="320.92" x2="205.60" y2="320.92" stroke="#f0f" stroke-width="1.4" stroke-dasharray="4.4 4" stroke-dashoffset="0"/>
<path d="M192.60 319.02L196.40 322.82M192.60 322.82L196.40 319.02" stroke="#f0f" stroke-width="1.3" fill="none"/>
<text transform="translate(7.70 353.00) rotate(-90)" class="r" font-size="8.5" text-anchor="middle">classification accuracy</text>
<text x="152.30" y="465.60" class="r" font-size="8.6" text-anchor="middle">p(proportion of partially labelled examples)</text>
<text x="147.50" y="483.00" font-size="13" font-weight="bold" text-anchor="middle">(c)</text>
<clipPath id="c3"><rect x="334.30" y="259.10" width="232.10" height="183.10"/></clipPath>
<path d="M350.88 442.20v-2.3M350.88 259.10v2.3M384.04 442.20v-2.3M384.04 259.10v2.3M417.19 442.20v-2.3M417.19 259.10v2.3M450.35 442.20v-2.3M450.35 259.10v2.3M483.51 442.20v-2.3M483.51 259.10v2.3M516.66 442.20v-2.3M516.66 259.10v2.3M549.82 442.20v-2.3M549.82 259.10v2.3M334.30 442.20h2.3M566.40 442.20h-2.3M334.30 419.31h2.3M566.40 419.31h-2.3M334.30 396.43h2.3M566.40 396.43h-2.3M334.30 373.54h2.3M566.40 373.54h-2.3M334.30 350.65h2.3M566.40 350.65h-2.3M334.30 327.76h2.3M566.40 327.76h-2.3M334.30 304.88h2.3M566.40 304.88h-2.3M334.30 281.99h2.3M566.40 281.99h-2.3M334.30 259.10h2.3M566.40 259.10h-2.3" stroke="#333" stroke-width="0.9" fill="none"/>
<text transform="translate(350.88 451.00) scale(0.95 1)" class="r" font-size="7.35" text-anchor="middle">0.1</text>
<text transform="translate(384.04 451.00) scale(0.95 1)" class="r" font-size="7.35" text-anchor="middle">0.2</text>
<text transform="translate(417.19 451.00) scale(0.95 1)" class="r" font-size="7.35" text-anchor="middle">0.3</text>
<text transform="translate(450.35 451.00) scale(0.95 1)" class="r" font-size="7.35" text-anchor="middle">0.4</text>
<text transform="translate(483.51 451.00) scale(0.95 1)" class="r" font-size="7.35" text-anchor="middle">0.5</text>
<text transform="translate(516.66 451.00) scale(0.95 1)" class="r" font-size="7.35" text-anchor="middle">0.6</text>
<text transform="translate(549.82 451.00) scale(0.95 1)" class="r" font-size="7.35" text-anchor="middle">0.7</text>
<text transform="translate(331.90 444.80) scale(0.95 1)" class="r" font-size="7.35" text-anchor="end">0.6</text>
<text transform="translate(331.90 421.91) scale(0.95 1)" class="r" font-size="7.35" text-anchor="end">0.65</text>
<text transform="translate(331.90 399.03) scale(0.95 1)" class="r" font-size="7.35" text-anchor="end">0.7</text>
<text transform="translate(331.90 376.14) scale(0.95 1)" class="r" font-size="7.35" text-anchor="end">0.75</text>
<text transform="translate(331.90 353.25) scale(0.95 1)" class="r" font-size="7.35" text-anchor="end">0.8</text>
<text transform="translate(331.90 330.36) scale(0.95 1)" class="r" font-size="7.35" text-anchor="end">0.85</text>
<text transform="translate(331.90 307.48) scale(0.95 1)" class="r" font-size="7.35" text-anchor="end">0.9</text>
<text transform="translate(331.90 284.59) scale(0.95 1)" class="r" font-size="7.35" text-anchor="end">0.95</text>
<text transform="translate(331.90 261.70) scale(0.95 1)" class="r" font-size="7.35" text-anchor="end">1</text>
<g clip-path="url(#c3)">
<polyline points="350.88,349.28 384.04,356.60 417.19,361.64 450.35,364.38 483.51,378.12 516.66,379.03 549.82,420.23" fill="none" stroke="#000" stroke-width="1.4" stroke-linejoin="round"/>
<rect x="349.18" y="347.58" width="3.40" height="3.40" fill="none" stroke="#000" stroke-width="1.3"/>
<rect x="382.34" y="354.90" width="3.40" height="3.40" fill="none" stroke="#000" stroke-width="1.3"/>
<rect x="415.49" y="359.94" width="3.40" height="3.40" fill="none" stroke="#000" stroke-width="1.3"/>
<rect x="448.65" y="362.68" width="3.40" height="3.40" fill="none" stroke="#000" stroke-width="1.3"/>
<rect x="481.81" y="376.42" width="3.40" height="3.40" fill="none" stroke="#000" stroke-width="1.3"/>
<rect x="514.96" y="377.33" width="3.40" height="3.40" fill="none" stroke="#000" stroke-width="1.3"/>
<rect x="548.12" y="418.53" width="3.40" height="3.40" fill="none" stroke="#000" stroke-width="1.3"/>
<polyline points="350.88,341.50 384.04,351.57 417.19,352.48 450.35,365.30 483.51,369.88 516.66,379.26 549.82,380.86" fill="none" stroke="#000" stroke-width="1.4" stroke-linejoin="round"/>
<polygon points="350.88,338.10 351.70,340.36 354.11,340.44 352.21,341.93 352.88,344.25 350.88,342.89 348.88,344.25 349.55,341.93 347.64,340.44 350.06,340.36" fill="#000" stroke="#000" stroke-width="0.6"/>
<polygon points="384.04,348.17 384.86,350.43 387.27,350.51 385.37,352.00 386.03,354.32 384.04,352.97 382.04,354.32 382.70,352.00 380.80,350.51 383.21,350.43" fill="#000" stroke="#000" stroke-width="0.6"/>
<polygon points="417.19,349.08 418.02,351.35 420.43,351.43 418.52,352.91 419.19,355.23 417.19,353.88 415.19,355.23 415.86,352.91 413.96,351.43 416.37,351.35" fill="#000" stroke="#000" stroke-width="0.6"/>
<polygon points="450.35,361.90 451.17,364.17 453.58,364.25 451.68,365.73 452.35,368.05 450.35,366.70 448.35,368.05 449.02,365.73 447.12,364.25 449.53,364.17" fill="#000" stroke="#000" stroke-width="0.6"/>
<polygon points="483.51,366.48 484.33,368.74 486.74,368.82 484.84,370.31 485.51,372.63 483.51,371.28 481.51,372.63 482.18,370.31 480.27,368.82 482.68,368.74" fill="#000" stroke="#000" stroke-width="0.6"/>
<polygon points="516.66,375.86 517.49,378.13 519.90,378.21 518.00,379.69 518.66,382.01 516.66,380.66 514.67,382.01 515.33,379.69 513.43,378.21 515.84,378.13" fill="#000" stroke="#000" stroke-width="0.6"/>
<polygon points="549.82,377.46 550.64,379.73 553.06,379.81 551.15,381.29 551.82,383.61 549.82,382.26 547.82,383.61 548.49,381.29 546.59,379.81 549.00,379.73" fill="#000" stroke="#000" stroke-width="0.6"/>
<polyline points="350.88,390.47 384.04,390.93 417.19,392.76 450.35,402.83 483.51,404.21 516.66,416.57 549.82,444.49" fill="none" stroke="#f00" stroke-width="0.9" stroke-dasharray="1 2.15" stroke-dashoffset="0" stroke-linejoin="round"/>
<polygon points="348.08,390.47 352.28,387.77 352.28,393.17" fill="none" stroke="#f00" stroke-width="1.25" stroke-linejoin="miter"/>
<polygon points="381.24,390.93 385.44,388.23 385.44,393.63" fill="none" stroke="#f00" stroke-width="1.25" stroke-linejoin="miter"/>
<polygon points="414.39,392.76 418.59,390.06 418.59,395.46" fill="none" stroke="#f00" stroke-width="1.25" stroke-linejoin="miter"/>
<polygon points="447.55,402.83 451.75,400.13 451.75,405.53" fill="none" stroke="#f00" stroke-width="1.25" stroke-linejoin="miter"/>
<polygon points="480.71,404.21 484.91,401.51 484.91,406.91" fill="none" stroke="#f00" stroke-width="1.25" stroke-linejoin="miter"/>
<polygon points="513.86,416.57 518.06,413.87 518.06,419.27" fill="none" stroke="#f00" stroke-width="1.25" stroke-linejoin="miter"/>
<polyline points="350.88,384.07 384.04,384.52 417.19,397.34 450.35,393.68 483.51,396.43 516.66,391.85 549.82,412.45" fill="none" stroke="#0f0" stroke-width="1.3" stroke-dasharray="4.1 2.9 0.6 2.9" stroke-dashoffset="7.0" stroke-linejoin="round"/>
<circle cx="350.88" cy="384.07" r="2.1" fill="none" stroke="#0f0" stroke-width="1.3"/>
<circle cx="384.04" cy="384.52" r="2.1" fill="none" stroke="#0f0" stroke-width="1.3"/>
<circle cx="417.19" cy="397.34" r="2.1" fill="none" stroke="#0f0" stroke-width="1.3"/>
<circle cx="450.35" cy="393.68" r="2.1" fill="none" stroke="#0f0" stroke-width="1.3"/>
<circle cx="483.51" cy="396.43" r="2.1" fill="none" stroke="#0f0" stroke-width="1.3"/>
<circle cx="516.66" cy="391.85" r="2.1" fill="none" stroke="#0f0" stroke-width="1.3"/>
<circle cx="549.82" cy="412.45" r="2.1" fill="none" stroke="#0f0" stroke-width="1.3"/>
<polyline points="350.88,365.76 384.04,368.04 417.19,370.33 450.35,371.71 483.51,369.88 516.66,371.48 549.82,388.87" fill="none" stroke="#0f0" stroke-width="1.3" stroke-dasharray="4.1 2.9 0.6 2.9" stroke-dashoffset="7.0" stroke-linejoin="round"/>
<polygon points="353.68,365.76 349.48,363.06 349.48,368.46" fill="none" stroke="#0f0" stroke-width="1.25" stroke-linejoin="miter"/>
<polygon points="386.84,368.04 382.64,365.34 382.64,370.74" fill="none" stroke="#0f0" stroke-width="1.25" stroke-linejoin="miter"/>
<polygon points="419.99,370.33 415.79,367.63 415.79,373.03" fill="none" stroke="#0f0" stroke-width="1.25" stroke-linejoin="miter"/>
<polygon points="453.15,371.71 448.95,369.01 448.95,374.41" fill="none" stroke="#0f0" stroke-width="1.25" stroke-linejoin="miter"/>
<polygon points="486.31,369.88 482.11,367.18 482.11,372.58" fill="none" stroke="#0f0" stroke-width="1.25" stroke-linejoin="miter"/>
<polygon points="519.46,371.48 515.26,368.78 515.26,374.18" fill="none" stroke="#0f0" stroke-width="1.25" stroke-linejoin="miter"/>
<polygon points="552.62,388.87 548.42,386.17 548.42,391.57" fill="none" stroke="#0f0" stroke-width="1.25" stroke-linejoin="miter"/>
<polyline points="350.88,369.88 384.04,368.04 417.19,374.45 450.35,366.67 483.51,366.21 516.66,364.38 549.82,370.79" fill="none" stroke="#00f" stroke-width="1.55" stroke-linejoin="round"/>
<polygon points="350.88,372.68 348.18,368.48 353.58,368.48" fill="none" stroke="#00f" stroke-width="1.3" stroke-linejoin="miter"/>
<polygon points="384.04,370.84 381.34,366.64 386.74,366.64" fill="none" stroke="#00f" stroke-width="1.3" stroke-linejoin="miter"/>
<polygon points="417.19,377.25 414.49,373.05 419.89,373.05" fill="none" stroke="#00f" stroke-width="1.3" stroke-linejoin="miter"/>
<polygon points="450.35,369.47 447.65,365.27 453.05,365.27" fill="none" stroke="#00f" stroke-width="1.3" stroke-linejoin="miter"/>
<polygon points="483.51,369.01 480.81,364.81 486.21,364.81" fill="none" stroke="#00f" stroke-width="1.3" stroke-linejoin="miter"/>
<polygon points="516.66,367.18 513.96,362.98 519.36,362.98" fill="none" stroke="#00f" stroke-width="1.3" stroke-linejoin="miter"/>
<polygon points="549.82,373.59 547.12,369.39 552.52,369.39" fill="none" stroke="#00f" stroke-width="1.3" stroke-linejoin="miter"/>
<polyline points="350.88,355.23 384.04,367.59 417.19,366.67 450.35,366.21 483.51,372.44 516.66,375.83 549.82,397.34" fill="none" stroke="#f0f" stroke-width="1.4" stroke-dasharray="4.4 4" stroke-dashoffset="0" stroke-linejoin="round"/>
<path d="M348.98 353.33L352.78 357.13M348.98 357.13L352.78 353.33" stroke="#f0f" stroke-width="1.3" fill="none"/>
<path d="M382.14 365.69L385.94 369.49M382.14 369.49L385.94 365.69" stroke="#f0f" stroke-width="1.3" fill="none"/>
<path d="M415.29 364.77L419.09 368.57M415.29 368.57L419.09 364.77" stroke="#f0f" stroke-width="1.3" fill="none"/>
<path d="M448.45 364.31L452.25 368.11M448.45 368.11L452.25 364.31" stroke="#f0f" stroke-width="1.3" fill="none"/>
<path d="M481.61 370.54L485.41 374.34M481.61 374.34L485.41 370.54" stroke="#f0f" stroke-width="1.3" fill="none"/>
<path d="M514.76 373.93L518.56 377.73M514.76 377.73L518.56 373.93" stroke="#f0f" stroke-width="1.3" fill="none"/>
<path d="M547.92 395.44L551.72 399.24M547.92 399.24L551.72 395.44" stroke="#f0f" stroke-width="1.3" fill="none"/>
</g>
<rect x="334.30" y="259.10" width="232.10" height="183.10" fill="none" stroke="#000" stroke-width="1.2"/>
<rect x="481.10" y="262.50" width="82.5" height="63.6" fill="#fff" stroke="#000" stroke-width="1"/>
<line x1="485.40" y1="267.70" x2="507.60" y2="267.70" stroke="#000" stroke-width="1.4"/>
<rect x="494.80" y="266.00" width="3.40" height="3.40" fill="none" stroke="#000" stroke-width="1.3"/>
<line x1="485.40" y1="276.57" x2="507.60" y2="276.57" stroke="#000" stroke-width="1.4"/>
<polygon points="496.50,273.17 497.32,275.44 499.73,275.52 497.83,277.00 498.50,279.32 496.50,277.97 494.50,279.32 495.17,277.00 493.27,275.52 495.68,275.44" fill="#000" stroke="#000" stroke-width="0.6"/>
<line x1="485.40" y1="285.44" x2="507.60" y2="285.44" stroke="#f00" stroke-width="0.9" stroke-dasharray="1 2.15" stroke-dashoffset="0"/>
<polygon points="493.70,285.44 497.90,282.74 497.90,288.14" fill="none" stroke="#f00" stroke-width="1.25" stroke-linejoin="miter"/>
<line x1="485.40" y1="294.31" x2="507.60" y2="294.31" stroke="#0f0" stroke-width="1.3" stroke-dasharray="4.1 2.9 0.6 2.9" stroke-dashoffset="7.0"/>
<circle cx="496.50" cy="294.31" r="2.1" fill="none" stroke="#0f0" stroke-width="1.3"/>
<line x1="485.40" y1="303.18" x2="507.60" y2="303.18" stroke="#0f0" stroke-width="1.3" stroke-dasharray="4.1 2.9 0.6 2.9" stroke-dashoffset="7.0"/>
<polygon points="499.30,303.18 495.10,300.48 495.10,305.88" fill="none" stroke="#0f0" stroke-width="1.25" stroke-linejoin="miter"/>
<line x1="485.40" y1="312.05" x2="507.60" y2="312.05" stroke="#00f" stroke-width="1.55"/>
<polygon points="496.50,314.85 493.80,310.65 499.20,310.65" fill="none" stroke="#00f" stroke-width="1.3" stroke-linejoin="miter"/>
<line x1="485.40" y1="320.92" x2="507.60" y2="320.92" stroke="#f0f" stroke-width="1.4" stroke-dasharray="4.4 4" stroke-dashoffset="0"/>
<path d="M494.60 319.02L498.40 322.82M494.60 322.82L498.40 319.02" stroke="#f0f" stroke-width="1.3" fill="none"/>
<text transform="translate(309.30 353.00) rotate(-90)" class="r" font-size="8.5" text-anchor="middle">classification accuracy</text>
<text x="453.85" y="465.60" class="r" font-size="8.6" text-anchor="middle">p(proportion of partially labelled examples)</text>
<text x="450.50" y="485.00" font-size="13" stroke="#000" stroke-width="0.6" text-anchor="middle">(d)</text>
<clipPath id="c4"><rect x="32.60" y="516.90" width="232.40" height="183.50"/></clipPath>
<path d="M49.20 700.40v-2.3M49.20 516.90v2.3M82.40 700.40v-2.3M82.40 516.90v2.3M115.60 700.40v-2.3M115.60 516.90v2.3M148.80 700.40v-2.3M148.80 516.90v2.3M182.00 700.40v-2.3M182.00 516.90v2.3M215.20 700.40v-2.3M215.20 516.90v2.3M248.40 700.40v-2.3M248.40 516.90v2.3M32.60 700.40h2.3M265.00 700.40h-2.3M32.60 680.01h2.3M265.00 680.01h-2.3M32.60 659.62h2.3M265.00 659.62h-2.3M32.60 639.23h2.3M265.00 639.23h-2.3M32.60 618.84h2.3M265.00 618.84h-2.3M32.60 598.46h2.3M265.00 598.46h-2.3M32.60 578.07h2.3M265.00 578.07h-2.3M32.60 557.68h2.3M265.00 557.68h-2.3M32.60 537.29h2.3M265.00 537.29h-2.3M32.60 516.90h2.3M265.00 516.90h-2.3" stroke="#333" stroke-width="0.9" fill="none"/>
<text transform="translate(49.20 709.20) scale(0.95 1)" class="r" font-size="7.35" text-anchor="middle">0.1</text>
<text transform="translate(82.40 709.20) scale(0.95 1)" class="r" font-size="7.35" text-anchor="middle">0.2</text>
<text transform="translate(115.60 709.20) scale(0.95 1)" class="r" font-size="7.35" text-anchor="middle">0.3</text>
<text transform="translate(148.80 709.20) scale(0.95 1)" class="r" font-size="7.35" text-anchor="middle">0.4</text>
<text transform="translate(182.00 709.20) scale(0.95 1)" class="r" font-size="7.35" text-anchor="middle">0.5</text>
<text transform="translate(215.20 709.20) scale(0.95 1)" class="r" font-size="7.35" text-anchor="middle">0.6</text>
<text transform="translate(248.40 709.20) scale(0.95 1)" class="r" font-size="7.35" text-anchor="middle">0.7</text>
<text transform="translate(30.20 703.00) scale(0.95 1)" class="r" font-size="7.35" text-anchor="end">0.75</text>
<text transform="translate(30.20 682.61) scale(0.95 1)" class="r" font-size="7.35" text-anchor="end">0.8</text>
<text transform="translate(30.20 662.22) scale(0.95 1)" class="r" font-size="7.35" text-anchor="end">0.85</text>
<text transform="translate(30.20 641.83) scale(0.95 1)" class="r" font-size="7.35" text-anchor="end">0.9</text>
<text transform="translate(30.20 621.44) scale(0.95 1)" class="r" font-size="7.35" text-anchor="end">0.95</text>
<text transform="translate(30.20 601.06) scale(0.95 1)" class="r" font-size="7.35" text-anchor="end">1</text>
<text transform="translate(30.20 580.67) scale(0.95 1)" class="r" font-size="7.35" text-anchor="end">1.05</text>
<text transform="translate(30.20 560.28) scale(0.95 1)" class="r" font-size="7.35" text-anchor="end">1.1</text>
<text transform="translate(30.20 539.89) scale(0.95 1)" class="r" font-size="7.35" text-anchor="end">1.15</text>
<text transform="translate(30.20 519.50) scale(0.95 1)" class="r" font-size="7.35" text-anchor="end">1.2</text>
<g clip-path="url(#c4)">
<polyline points="49.20,621.70 82.40,622.11 115.60,621.70 148.80,622.51 182.00,620.48 215.20,623.74 248.40,623.74" fill="none" stroke="#000" stroke-width="1.4" stroke-linejoin="round"/>
<rect x="47.50" y="620.00" width="3.40" height="3.40" fill="none" stroke="#000" stroke-width="1.3"/>
<rect x="80.70" y="620.41" width="3.40" height="3.40" fill="none" stroke="#000" stroke-width="1.3"/>
<rect x="113.90" y="620.00" width="3.40" height="3.40" fill="none" stroke="#000" stroke-width="1.3"/>
<rect x="147.10" y="620.81" width="3.40" height="3.40" fill="none" stroke="#000" stroke-width="1.3"/>
<rect x="180.30" y="618.78" width="3.40" height="3.40" fill="none" stroke="#000" stroke-width="1.3"/>
<rect x="213.50" y="622.04" width="3.40" height="3.40" fill="none" stroke="#000" stroke-width="1.3"/>
<rect x="246.70" y="622.04" width="3.40" height="3.40" fill="none" stroke="#000" stroke-width="1.3"/>
<polyline points="49.20,613.54 82.40,615.58 115.60,618.03 148.80,618.84 182.00,617.62 215.20,623.74 248.40,623.74" fill="none" stroke="#000" stroke-width="1.4" stroke-linejoin="round"/>
<polygon points="49.20,610.14 50.02,612.41 52.43,612.49 50.53,613.98 51.20,616.29 49.20,614.94 47.20,616.29 47.87,613.98 45.97,612.49 48.38,612.41" fill="#000" stroke="#000" stroke-width="0.6"/>
<polygon points="82.40,612.18 83.22,614.45 85.63,614.53 83.73,616.01 84.40,618.33 82.40,616.98 80.40,618.33 81.07,616.01 79.17,614.53 81.58,614.45" fill="#000" stroke="#000" stroke-width="0.6"/>
<polygon points="115.60,614.63 116.42,616.90 118.83,616.98 116.93,618.46 117.60,620.78 115.60,619.43 113.60,620.78 114.27,618.46 112.37,616.98 114.78,616.90" fill="#000" stroke="#000" stroke-width="0.6"/>
<polygon points="148.80,615.44 149.62,617.71 152.03,617.79 150.13,619.28 150.80,621.60 148.80,620.24 146.80,621.60 147.47,619.28 145.57,617.79 147.98,617.71" fill="#000" stroke="#000" stroke-width="0.6"/>
<polygon points="182.00,614.22 182.82,616.49 185.23,616.57 183.33,618.05 184.00,620.37 182.00,619.02 180.00,620.37 180.67,618.05 178.77,616.57 181.18,616.49" fill="#000" stroke="#000" stroke-width="0.6"/>
<polygon points="215.20,620.34 216.02,622.61 218.43,622.69 216.53,624.17 217.20,626.49 215.20,625.14 213.20,626.49 213.87,624.17 211.97,622.69 214.38,622.61" fill="#000" stroke="#000" stroke-width="0.6"/>
<polygon points="248.40,620.34 249.22,622.61 251.63,622.69 249.73,624.17 250.40,626.49 248.40,625.14 246.40,626.49 247.07,624.17 245.17,622.69 247.58,622.61" fill="#000" stroke="#000" stroke-width="0.6"/>
<polyline points="49.20,619.66 82.40,618.19 115.60,620.19 148.80,621.29 182.00,622.39 215.20,624.15 248.40,633.52" fill="none" stroke="#f00" stroke-width="0.9" stroke-dasharray="1 2.15" stroke-dashoffset="0" stroke-linejoin="round"/>
<polygon points="46.40,619.66 50.60,616.96 50.60,622.36" fill="none" stroke="#f00" stroke-width="1.25" stroke-linejoin="miter"/>
<polygon points="79.60,618.19 83.80,615.49 83.80,620.89" fill="none" stroke="#f00" stroke-width="1.25" stroke-linejoin="miter"/>
<polygon points="112.80,620.19 117.00,617.49 117.00,622.89" fill="none" stroke="#f00" stroke-width="1.25" stroke-linejoin="miter"/>
<polygon points="146.00,621.29 150.20,618.59 150.20,623.99" fill="none" stroke="#f00" stroke-width="1.25" stroke-linejoin="miter"/>
<polygon points="179.20,622.39 183.40,619.69 183.40,625.09" fill="none" stroke="#f00" stroke-width="1.25" stroke-linejoin="miter"/>
<polygon points="212.40,624.15 216.60,621.45 216.60,626.85" fill="none" stroke="#f00" stroke-width="1.25" stroke-linejoin="miter"/>
<polygon points="245.60,633.52 249.80,630.82 249.80,636.22" fill="none" stroke="#f00" stroke-width="1.25" stroke-linejoin="miter"/>
<polyline points="49.20,638.01 82.40,638.42 115.60,637.40 148.80,638.83 182.00,639.64 215.20,639.64 248.40,639.23" fill="none" stroke="#0f0" stroke-width="1.3" stroke-dasharray="4.1 2.9 0.6 2.9" stroke-dashoffset="7.0" stroke-linejoin="round"/>
<circle cx="49.20" cy="638.01" r="2.1" fill="none" stroke="#0f0" stroke-width="1.3"/>
<circle cx="82.40" cy="638.42" r="2.1" fill="none" stroke="#0f0" stroke-width="1.3"/>
<circle cx="115.60" cy="637.40" r="2.1" fill="none" stroke="#0f0" stroke-width="1.3"/>
<circle cx="148.80" cy="638.83" r="2.1" fill="none" stroke="#0f0" stroke-width="1.3"/>
<circle cx="182.00" cy="639.64" r="2.1" fill="none" stroke="#0f0" stroke-width="1.3"/>
<circle cx="215.20" cy="639.64" r="2.1" fill="none" stroke="#0f0" stroke-width="1.3"/>
<circle cx="248.40" cy="639.23" r="2.1" fill="none" stroke="#0f0" stroke-width="1.3"/>
<polyline points="49.20,623.49 82.40,627.00 115.60,624.15 148.80,629.20 182.00,628.51 215.20,632.71 248.40,631.08" fill="none" stroke="#0f0" stroke-width="1.3" stroke-dasharray="4.1 2.9 0.6 2.9" stroke-dashoffset="7.0" stroke-linejoin="round"/>
<polygon points="52.00,623.49 47.80,620.79 47.80,626.19" fill="none" stroke="#0f0" stroke-width="1.25" stroke-linejoin="miter"/>
<polygon points="85.20,627.00 81.00,624.30 81.00,629.70" fill="none" stroke="#0f0" stroke-width="1.25" stroke-linejoin="miter"/>
<polygon points="118.40,624.15 114.20,621.45 114.20,626.85" fill="none" stroke="#0f0" stroke-width="1.25" stroke-linejoin="miter"/>
<polygon points="151.60,629.20 147.40,626.50 147.40,631.90" fill="none" stroke="#0f0" stroke-width="1.25" stroke-linejoin="miter"/>
<polygon points="184.80,628.51 180.60,625.81 180.60,631.21" fill="none" stroke="#0f0" stroke-width="1.25" stroke-linejoin="miter"/>
<polygon points="218.00,632.71 213.80,630.01 213.80,635.41" fill="none" stroke="#0f0" stroke-width="1.25" stroke-linejoin="miter"/>
<polygon points="251.20,631.08 247.00,628.38 247.00,633.78" fill="none" stroke="#0f0" stroke-width="1.25" stroke-linejoin="miter"/>
<polyline points="49.20,669.00 82.40,669.41 115.60,668.59 148.80,672.02 182.00,672.67 215.20,672.67 248.40,671.28" fill="none" stroke="#00f" stroke-width="1.55" stroke-linejoin="round"/>
<polygon points="49.20,671.80 46.50,667.60 51.90,667.60" fill="none" stroke="#00f" stroke-width="1.3" stroke-linejoin="miter"/>
<polygon points="82.40,672.21 79.70,668.01 85.10,668.01" fill="none" stroke="#00f" stroke-width="1.3" stroke-linejoin="miter"/>
<polygon points="115.60,671.39 112.90,667.19 118.30,667.19" fill="none" stroke="#00f" stroke-width="1.3" stroke-linejoin="miter"/>
<polygon points="148.80,674.82 146.10,670.62 151.50,670.62" fill="none" stroke="#00f" stroke-width="1.3" stroke-linejoin="miter"/>
<polygon points="182.00,675.47 179.30,671.27 184.70,671.27" fill="none" stroke="#00f" stroke-width="1.3" stroke-linejoin="miter"/>
<polygon points="215.20,675.47 212.50,671.27 217.90,671.27" fill="none" stroke="#00f" stroke-width="1.3" stroke-linejoin="miter"/>
<polygon points="248.40,674.08 245.70,669.88 251.10,669.88" fill="none" stroke="#00f" stroke-width="1.3" stroke-linejoin="miter"/>
<polyline points="49.20,621.01 82.40,621.29 115.60,624.72 148.80,630.67 182.00,639.64 215.20,635.16 248.40,642.70" fill="none" stroke="#f0f" stroke-width="1.4" stroke-dasharray="4.4 4" stroke-dashoffset="0" stroke-linejoin="round"/>
<path d="M47.30 619.11L51.10 622.91M47.30 622.91L51.10 619.11" stroke="#f0f" stroke-width="1.3" fill="none"/>
<path d="M80.50 619.39L84.30 623.19M80.50 623.19L84.30 619.39" stroke="#f0f" stroke-width="1.3" fill="none"/>
<path d="M113.70 622.82L117.50 626.62M113.70 626.62L117.50 622.82" stroke="#f0f" stroke-width="1.3" fill="none"/>
<path d="M146.90 628.77L150.70 632.57M146.90 632.57L150.70 628.77" stroke="#f0f" stroke-width="1.3" fill="none"/>
<path d="M180.10 637.74L183.90 641.54M180.10 641.54L183.90 637.74" stroke="#f0f" stroke-width="1.3" fill="none"/>
<path d="M213.30 633.26L217.10 637.06M213.30 637.06L217.10 633.26" stroke="#f0f" stroke-width="1.3" fill="none"/>
<path d="M246.50 640.80L250.30 644.60M246.50 644.60L250.30 640.80" stroke="#f0f" stroke-width="1.3" fill="none"/>
</g>
<rect x="32.60" y="516.90" width="232.40" height="183.50" fill="none" stroke="#000" stroke-width="1.2"/>
<rect x="179.10" y="520.60" width="82.5" height="63.6" fill="#fff" stroke="#000" stroke-width="1"/>
<line x1="183.40" y1="525.80" x2="205.60" y2="525.80" stroke="#000" stroke-width="1.4"/>
<rect x="192.80" y="524.10" width="3.40" height="3.40" fill="none" stroke="#000" stroke-width="1.3"/>
<line x1="183.40" y1="534.67" x2="205.60" y2="534.67" stroke="#000" stroke-width="1.4"/>
<polygon points="194.50,531.27 195.32,533.54 197.73,533.62 195.83,535.10 196.50,537.42 194.50,536.07 192.50,537.42 193.17,535.10 191.27,533.62 193.68,533.54" fill="#000" stroke="#000" stroke-width="0.6"/>
<line x1="183.40" y1="543.54" x2="205.60" y2="543.54" stroke="#f00" stroke-width="0.9" stroke-dasharray="1 2.15" stroke-dashoffset="0"/>
<polygon points="191.70,543.54 195.90,540.84 195.90,546.24" fill="none" stroke="#f00" stroke-width="1.25" stroke-linejoin="miter"/>
<line x1="183.40" y1="552.41" x2="205.60" y2="552.41" stroke="#0f0" stroke-width="1.3" stroke-dasharray="4.1 2.9 0.6 2.9" stroke-dashoffset="7.0"/>
<circle cx="194.50" cy="552.41" r="2.1" fill="none" stroke="#0f0" stroke-width="1.3"/>
<line x1="183.40" y1="561.28" x2="205.60" y2="561.28" stroke="#0f0" stroke-width="1.3" stroke-dasharray="4.1 2.9 0.6 2.9" stroke-dashoffset="7.0"/>
<polygon points="197.30,561.28 193.10,558.58 193.10,563.98" fill="none" stroke="#0f0" stroke-width="1.25" stroke-linejoin="miter"/>
<line x1="183.40" y1="570.15" x2="205.60" y2="570.15" stroke="#00f" stroke-width="1.55"/>
<polygon points="194.50,572.95 191.80,568.75 197.20,568.75" fill="none" stroke="#00f" stroke-width="1.3" stroke-linejoin="miter"/>
<line x1="183.40" y1="579.02" x2="205.60" y2="579.02" stroke="#f0f" stroke-width="1.4" stroke-dasharray="4.4 4" stroke-dashoffset="0"/>
<path d="M192.60 577.12L196.40 580.92M192.60 580.92L196.40 577.12" stroke="#f0f" stroke-width="1.3" fill="none"/>
<text transform="translate(7.70 610.90) rotate(-90)" class="r" font-size="8.5" text-anchor="middle">classification accuracy</text>
<text x="152.30" y="723.30" class="r" font-size="8.6" text-anchor="middle">p(proportion of partially labelled examples)</text>
<text x="147.90" y="740.70" font-size="13" font-weight="bold" text-anchor="middle">(e)</text>
<clipPath id="c5"><rect x="334.30" y="516.90" width="232.10" height="183.50"/></clipPath>
<path d="M350.88 700.40v-2.3M350.88 516.90v2.3M384.04 700.40v-2.3M384.04 516.90v2.3M417.19 700.40v-2.3M417.19 516.90v2.3M450.35 700.40v-2.3M450.35 516.90v2.3M483.51 700.40v-2.3M483.51 516.90v2.3M516.66 700.40v-2.3M516.66 516.90v2.3M549.82 700.40v-2.3M549.82 516.90v2.3M334.30 700.40h2.3M566.40 700.40h-2.3M334.30 669.82h2.3M566.40 669.82h-2.3M334.30 639.23h2.3M566.40 639.23h-2.3M334.30 608.65h2.3M566.40 608.65h-2.3M334.30 578.07h2.3M566.40 578.07h-2.3M334.30 547.48h2.3M566.40 547.48h-2.3M334.30 516.90h2.3M566.40 516.90h-2.3" stroke="#333" stroke-width="0.9" fill="none"/>
<text transform="translate(350.88 709.20) scale(0.95 1)" class="r" font-size="7.35" text-anchor="middle">0.1</text>
<text transform="translate(384.04 709.20) scale(0.95 1)" class="r" font-size="7.35" text-anchor="middle">0.2</text>
<text transform="translate(417.19 709.20) scale(0.95 1)" class="r" font-size="7.35" text-anchor="middle">0.3</text>
<text transform="translate(450.35 709.20) scale(0.95 1)" class="r" font-size="7.35" text-anchor="middle">0.4</text>
<text transform="translate(483.51 709.20) scale(0.95 1)" class="r" font-size="7.35" text-anchor="middle">0.5</text>
<text transform="translate(516.66 709.20) scale(0.95 1)" class="r" font-size="7.35" text-anchor="middle">0.6</text>
<text transform="translate(549.82 709.20) scale(0.95 1)" class="r" font-size="7.35" text-anchor="middle">0.7</text>
<text transform="translate(331.90 703.00) scale(0.95 1)" class="r" font-size="7.35" text-anchor="end">0.6</text>
<text transform="translate(331.90 672.42) scale(0.95 1)" class="r" font-size="7.35" text-anchor="end">0.7</text>
<text transform="translate(331.90 641.83) scale(0.95 1)" class="r" font-size="7.35" text-anchor="end">0.8</text>
<text transform="translate(331.90 611.25) scale(0.95 1)" class="r" font-size="7.35" text-anchor="end">0.9</text>
<text transform="translate(331.90 580.67) scale(0.95 1)" class="r" font-size="7.35" text-anchor="end">1</text>
<text transform="translate(331.90 550.08) scale(0.95 1)" class="r" font-size="7.35" text-anchor="end">1.1</text>
<text transform="translate(331.90 519.50) scale(0.95 1)" class="r" font-size="7.35" text-anchor="end">1.2</text>
<g clip-path="url(#c5)">
<polyline points="350.88,625.38 384.04,626.57 417.19,627.31 450.35,627.31 483.51,631.28 516.66,632.50 549.82,641.50" fill="none" stroke="#000" stroke-width="1.4" stroke-linejoin="round"/>
<rect x="349.18" y="623.68" width="3.40" height="3.40" fill="none" stroke="#000" stroke-width="1.3"/>
<rect x="382.34" y="624.87" width="3.40" height="3.40" fill="none" stroke="#000" stroke-width="1.3"/>
<rect x="415.49" y="625.61" width="3.40" height="3.40" fill="none" stroke="#000" stroke-width="1.3"/>
<rect x="448.65" y="625.61" width="3.40" height="3.40" fill="none" stroke="#000" stroke-width="1.3"/>
<rect x="481.81" y="629.58" width="3.40" height="3.40" fill="none" stroke="#000" stroke-width="1.3"/>
<rect x="514.96" y="630.80" width="3.40" height="3.40" fill="none" stroke="#000" stroke-width="1.3"/>
<rect x="548.12" y="639.80" width="3.40" height="3.40" fill="none" stroke="#000" stroke-width="1.3"/>
<polyline points="350.88,609.78 384.04,613.88 417.19,618.74 450.35,623.02 483.51,628.53 516.66,630.98 549.82,638.01" fill="none" stroke="#000" stroke-width="1.4" stroke-linejoin="round"/>
<polygon points="350.88,606.38 351.70,608.65 354.11,608.73 352.21,610.21 352.88,612.53 350.88,611.18 348.88,612.53 349.55,610.21 347.64,608.73 350.06,608.65" fill="#000" stroke="#000" stroke-width="0.6"/>
<polygon points="384.04,610.48 384.86,612.75 387.27,612.83 385.37,614.31 386.03,616.63 384.04,615.28 382.04,616.63 382.70,614.31 380.80,612.83 383.21,612.75" fill="#000" stroke="#000" stroke-width="0.6"/>
<polygon points="417.19,615.34 418.02,617.61 420.43,617.69 418.52,619.18 419.19,621.49 417.19,620.14 415.19,621.49 415.86,619.18 413.96,617.69 416.37,617.61" fill="#000" stroke="#000" stroke-width="0.6"/>
<polygon points="450.35,619.62 451.17,621.89 453.58,621.97 451.68,623.46 452.35,625.77 450.35,624.42 448.35,625.77 449.02,623.46 447.12,621.97 449.53,621.89" fill="#000" stroke="#000" stroke-width="0.6"/>
<polygon points="483.51,625.13 484.33,627.40 486.74,627.48 484.84,628.96 485.51,631.28 483.51,629.93 481.51,631.28 482.18,628.96 480.27,627.48 482.68,627.40" fill="#000" stroke="#000" stroke-width="0.6"/>
<polygon points="516.66,627.58 517.49,629.84 519.90,629.93 518.00,631.41 518.66,633.73 516.66,632.38 514.67,633.73 515.33,631.41 513.43,629.93 515.84,629.84" fill="#000" stroke="#000" stroke-width="0.6"/>
<polygon points="549.82,634.61 550.64,636.88 553.06,636.96 551.15,638.44 551.82,640.76 549.82,639.41 547.82,640.76 548.49,638.44 546.59,636.96 549.00,636.88" fill="#000" stroke="#000" stroke-width="0.6"/>
<polyline points="350.88,606.30 384.04,606.66 417.19,607.58 450.35,607.58 483.51,610.30 516.66,611.10 549.82,615.81" fill="none" stroke="#f00" stroke-width="0.9" stroke-dasharray="1 2.15" stroke-dashoffset="0" stroke-linejoin="round"/>
<polygon points="348.08,606.30 352.28,603.60 352.28,609.00" fill="none" stroke="#f00" stroke-width="1.25" stroke-linejoin="miter"/>
<polygon points="381.24,606.66 385.44,603.96 385.44,609.36" fill="none" stroke="#f00" stroke-width="1.25" stroke-linejoin="miter"/>
<polygon points="414.39,607.58 418.59,604.88 418.59,610.28" fill="none" stroke="#f00" stroke-width="1.25" stroke-linejoin="miter"/>
<polygon points="447.55,607.58 451.75,604.88 451.75,610.28" fill="none" stroke="#f00" stroke-width="1.25" stroke-linejoin="miter"/>
<polygon points="480.71,610.30 484.91,607.60 484.91,613.00" fill="none" stroke="#f00" stroke-width="1.25" stroke-linejoin="miter"/>
<polygon points="513.86,611.10 518.06,608.40 518.06,613.80" fill="none" stroke="#f00" stroke-width="1.25" stroke-linejoin="miter"/>
<polygon points="547.02,615.81 551.22,613.11 551.22,618.51" fill="none" stroke="#f00" stroke-width="1.25" stroke-linejoin="miter"/>
<polyline points="350.88,632.50 384.04,632.50 417.19,632.99 450.35,632.99 483.51,632.99 516.66,633.30 549.82,633.30" fill="none" stroke="#0f0" stroke-width="1.3" stroke-dasharray="4.1 2.9 0.6 2.9" stroke-dashoffset="7.0" stroke-linejoin="round"/>
<circle cx="350.88" cy="632.50" r="2.1" fill="none" stroke="#0f0" stroke-width="1.3"/>
<circle cx="384.04" cy="632.50" r="2.1" fill="none" stroke="#0f0" stroke-width="1.3"/>
<circle cx="417.19" cy="632.99" r="2.1" fill="none" stroke="#0f0" stroke-width="1.3"/>
<circle cx="450.35" cy="632.99" r="2.1" fill="none" stroke="#0f0" stroke-width="1.3"/>
<circle cx="483.51" cy="632.99" r="2.1" fill="none" stroke="#0f0" stroke-width="1.3"/>
<circle cx="516.66" cy="633.30" r="2.1" fill="none" stroke="#0f0" stroke-width="1.3"/>
<circle cx="549.82" cy="633.30" r="2.1" fill="none" stroke="#0f0" stroke-width="1.3"/>
<polyline points="350.88,614.28 384.04,613.85 417.19,615.07 450.35,616.20 483.51,615.81 516.66,615.81 549.82,615.99" fill="none" stroke="#0f0" stroke-width="1.3" stroke-dasharray="4.1 2.9 0.6 2.9" stroke-dashoffset="7.0" stroke-linejoin="round"/>
<polygon points="353.68,614.28 349.48,611.58 349.48,616.98" fill="none" stroke="#0f0" stroke-width="1.25" stroke-linejoin="miter"/>
<polygon points="386.84,613.85 382.64,611.15 382.64,616.55" fill="none" stroke="#0f0" stroke-width="1.25" stroke-linejoin="miter"/>
<polygon points="419.99,615.07 415.79,612.37 415.79,617.77" fill="none" stroke="#0f0" stroke-width="1.25" stroke-linejoin="miter"/>
<polygon points="453.15,616.20 448.95,613.50 448.95,618.90" fill="none" stroke="#0f0" stroke-width="1.25" stroke-linejoin="miter"/>
<polygon points="486.31,615.81 482.11,613.11 482.11,618.51" fill="none" stroke="#0f0" stroke-width="1.25" stroke-linejoin="miter"/>
<polygon points="519.46,615.81 515.26,613.11 515.26,618.51" fill="none" stroke="#0f0" stroke-width="1.25" stroke-linejoin="miter"/>
<polygon points="552.62,615.99 548.42,613.29 548.42,618.69" fill="none" stroke="#0f0" stroke-width="1.25" stroke-linejoin="miter"/>
<polyline points="350.88,647.18 384.04,647.18 417.19,647.49 450.35,647.98 483.51,647.49 516.66,649.08 549.82,649.08" fill="none" stroke="#00f" stroke-width="1.55" stroke-linejoin="round"/>
<polygon points="350.88,649.98 348.18,645.78 353.58,645.78" fill="none" stroke="#00f" stroke-width="1.3" stroke-linejoin="miter"/>
<polygon points="384.04,649.98 381.34,645.78 386.74,645.78" fill="none" stroke="#00f" stroke-width="1.3" stroke-linejoin="miter"/>
<polygon points="417.19,650.29 414.49,646.09 419.89,646.09" fill="none" stroke="#00f" stroke-width="1.3" stroke-linejoin="miter"/>
<polygon points="450.35,650.78 447.65,646.58 453.05,646.58" fill="none" stroke="#00f" stroke-width="1.3" stroke-linejoin="miter"/>
<polygon points="483.51,650.29 480.81,646.09 486.21,646.09" fill="none" stroke="#00f" stroke-width="1.3" stroke-linejoin="miter"/>
<polygon points="516.66,651.88 513.96,647.68 519.36,647.68" fill="none" stroke="#00f" stroke-width="1.3" stroke-linejoin="miter"/>
<polygon points="549.82,651.88 547.12,647.68 552.52,647.68" fill="none" stroke="#00f" stroke-width="1.3" stroke-linejoin="miter"/>
<polyline points="350.88,621.40 384.04,621.50 417.19,620.27 450.35,620.88 483.51,621.40 516.66,621.10 549.82,621.10" fill="none" stroke="#f0f" stroke-width="1.4" stroke-dasharray="4.4 4" stroke-dashoffset="0" stroke-linejoin="round"/>
<path d="M348.98 619.50L352.78 623.30M348.98 623.30L352.78 619.50" stroke="#f0f" stroke-width="1.3" fill="none"/>
<path d="M382.14 619.60L385.94 623.39M382.14 623.39L385.94 619.60" stroke="#f0f" stroke-width="1.3" fill="none"/>
<path d="M415.29 618.37L419.09 622.17M415.29 622.17L419.09 618.37" stroke="#f0f" stroke-width="1.3" fill="none"/>
<path d="M448.45 618.98L452.25 622.78M448.45 622.78L452.25 618.98" stroke="#f0f" stroke-width="1.3" fill="none"/>
<path d="M481.61 619.50L485.41 623.30M481.61 623.30L485.41 619.50" stroke="#f0f" stroke-width="1.3" fill="none"/>
<path d="M514.76 619.20L518.56 623.00M514.76 623.00L518.56 619.20" stroke="#f0f" stroke-width="1.3" fill="none"/>
<path d="M547.92 619.20L551.72 623.00M547.92 623.00L551.72 619.20" stroke="#f0f" stroke-width="1.3" fill="none"/>
</g>
<rect x="334.30" y="516.90" width="232.10" height="183.50" fill="none" stroke="#000" stroke-width="1.2"/>
<rect x="481.10" y="520.60" width="82.5" height="63.6" fill="#fff" stroke="#000" stroke-width="1"/>
<line x1="485.40" y1="525.80" x2="507.60" y2="525.80" stroke="#000" stroke-width="1.4"/>
<rect x="494.80" y="524.10" width="3.40" height="3.40" fill="none" stroke="#000" stroke-width="1.3"/>
<line x1="485.40" y1="534.67" x2="507.60" y2="534.67" stroke="#000" stroke-width="1.4"/>
<polygon points="496.50,531.27 497.32,533.54 499.73,533.62 497.83,535.10 498.50,537.42 496.50,536.07 494.50,537.42 495.17,535.10 493.27,533.62 495.68,533.54" fill="#000" stroke="#000" stroke-width="0.6"/>
<line x1="485.40" y1="543.54" x2="507.60" y2="543.54" stroke="#f00" stroke-width="0.9" stroke-dasharray="1 2.15" stroke-dashoffset="0"/>
<polygon points="493.70,543.54 497.90,540.84 497.90,546.24" fill="none" stroke="#f00" stroke-width="1.25" stroke-linejoin="miter"/>
<line x1="485.40" y1="552.41" x2="507.60" y2="552.41" stroke="#0f0" stroke-width="1.3" stroke-dasharray="4.1 2.9 0.6 2.9" stroke-dashoffset="7.0"/>
<circle cx="496.50" cy="552.41" r="2.1" fill="none" stroke="#0f0" stroke-width="1.3"/>
<line x1="485.40" y1="561.28" x2="507.60" y2="561.28" stroke="#0f0" stroke-width="1.3" stroke-dasharray="4.1 2.9 0.6 2.9" stroke-dashoffset="7.0"/>
<polygon points="499.30,561.28 495.10,558.58 495.10,563.98" fill="none" stroke="#0f0" stroke-width="1.25" stroke-linejoin="miter"/>
<line x1="485.40" y1="570.15" x2="507.60" y2="570.15" stroke="#00f" stroke-width="1.55"/>
<polygon points="496.50,572.95 493.80,568.75 499.20,568.75" fill="none" stroke="#00f" stroke-width="1.3" stroke-linejoin="miter"/>
<line x1="485.40" y1="579.02" x2="507.60" y2="579.02" stroke="#f0f" stroke-width="1.4" stroke-dasharray="4.4 4" stroke-dashoffset="0"/>
<path d="M494.60 577.12L498.40 580.92M494.60 580.92L498.40 577.12" stroke="#f0f" stroke-width="1.3" fill="none"/>
<text transform="translate(313.00 610.90) rotate(-90)" class="r" font-size="8.5" text-anchor="middle">classification accuracy</text>
<text x="453.85" y="723.30" class="r" font-size="8.6" text-anchor="middle">p(proportion of partially labelled examples)</text>
<text x="450.90" y="742.20" font-size="13" font-weight="bold" text-anchor="middle">(f)</text>
</svg>
<div style="position:absolute;left:0;top:0;width:568px;height:745px;"><div class="lg" style="left:208.70px;top:9.83px">M3PL</div><div class="lg" style="left:208.70px;top:18.70px">M3PL<span class="h">-</span>Kernel</div><div class="lg" style="left:208.70px;top:27.57px">PL<span class="h">-</span>KNN</div><div class="lg" style="left:208.70px;top:36.44px">PL<span class="h">-</span>SVM</div><div class="lg" style="left:208.70px;top:45.31px">PL<span class="h">-</span>SVM<span class="h">-</span>kernel</div><div class="lg" style="left:208.70px;top:54.18px">CLPL</div><div class="lg" style="left:208.70px;top:63.05px">LSB<span class="h">-</span>CMM</div><div class="lg" style="left:510.70px;top:9.53px">M3PL</div><div class="lg" style="left:510.70px;top:18.40px">M3PL<span class="h">-</span>Kernel</div><div class="lg" style="left:510.70px;top:27.27px">PL<span class="h">-</span>KNN</div><div class="lg" style="left:510.70px;top:36.14px">PL<span class="h">-</span>SVM</div><div class="lg" style="left:510.70px;top:45.01px">PL<span class="h">-</span>SVM<span class="h">-</span>kernel</div><div class="lg" style="left:510.70px;top:53.88px">CLPL</div><div class="lg" style="left:510.70px;top:62.75px">LSB<span class="h">-</span>CMM</div><div class="lg" style="left:208.70px;top:264.43px">M3PL</div><div class="lg" style="left:208.70px;top:273.30px">M3PL<span class="h">-</span>Kernel</div><div class="lg" style="left:208.70px;top:282.17px">PL<span class="h">-</span>KNN</div><div class="lg" style="left:208.70px;top:291.04px">PL<span class="h">-</span>SVM</div><div class="lg" style="left:208.70px;top:299.91px">PL<span class="h">-</span>SVM<span class="h">-</span>kernel</div><div class="lg" style="left:208.70px;top:308.78px">CLPL</div><div class="lg" style="left:208.70px;top:317.65px">LSB<span class="h">-</span>CMM</div><div class="lg" style="left:510.70px;top:264.43px">M3PL</div><div class="lg" style="left:510.70px;top:273.30px">M3PL<span class="h">-</span>Kernel</div><div class="lg" style="left:510.70px;top:282.17px">PL<span class="h">-</span>KNN</div><div class="lg" style="left:510.70px;top:291.04px">PL<span class="h">-</span>SVM</div><div class="lg" style="left:510.70px;top:299.91px">PL<span class="h">-</span>SVM<span class="h">-</span>kernel</div><div class="lg" style="left:510.70px;top:308.78px">CLPL</div><div class="lg" style="left:510.70px;top:317.65px">LSB<span class="h">-</span>CMM</div><div class="lg" style="left:208.70px;top:522.53px">M3PL</div><div class="lg" style="left:208.70px;top:531.40px">M3PL<span class="h">-</span>Kernel</div><div class="lg" style="left:208.70px;top:540.27px">PL<span class="h">-</span>KNN</div><div class="lg" style="left:208.70px;top:549.14px">PL<span class="h">-</span>SVM</div><div class="lg" style="left:208.70px;top:558.01px">PL<span class="h">-</span>SVM<span class="h">-</span>kernel</div><div class="lg" style="left:208.70px;top:566.88px">CLPL</div><div class="lg" style="left:208.70px;top:575.75px">LSB<span class="h">-</span>CMM</div><div class="lg" style="left:510.70px;top:522.53px">M3PL</div><div class="lg" style="left:510.70px;top:531.40px">M3PL<span class="h">-</span>Kernel</div><div class="lg" style="left:510.70px;top:540.27px">PL<span class="h">-</span>KNN</div><div class="lg" style="left:510.70px;top:549.14px">PL<span class="h">-</span>SVM</div><div class="lg" style="left:510.70px;top:558.01px">PL<span class="h">-</span>SVM<span class="h">-</span>kernel</div><div class="lg" style="left:510.70px;top:566.88px">CLPL</div><div class="lg" style="left:510.70px;top:575.75px">LSB<span class="h">-</span>CMM</div></div>
</body></html>
